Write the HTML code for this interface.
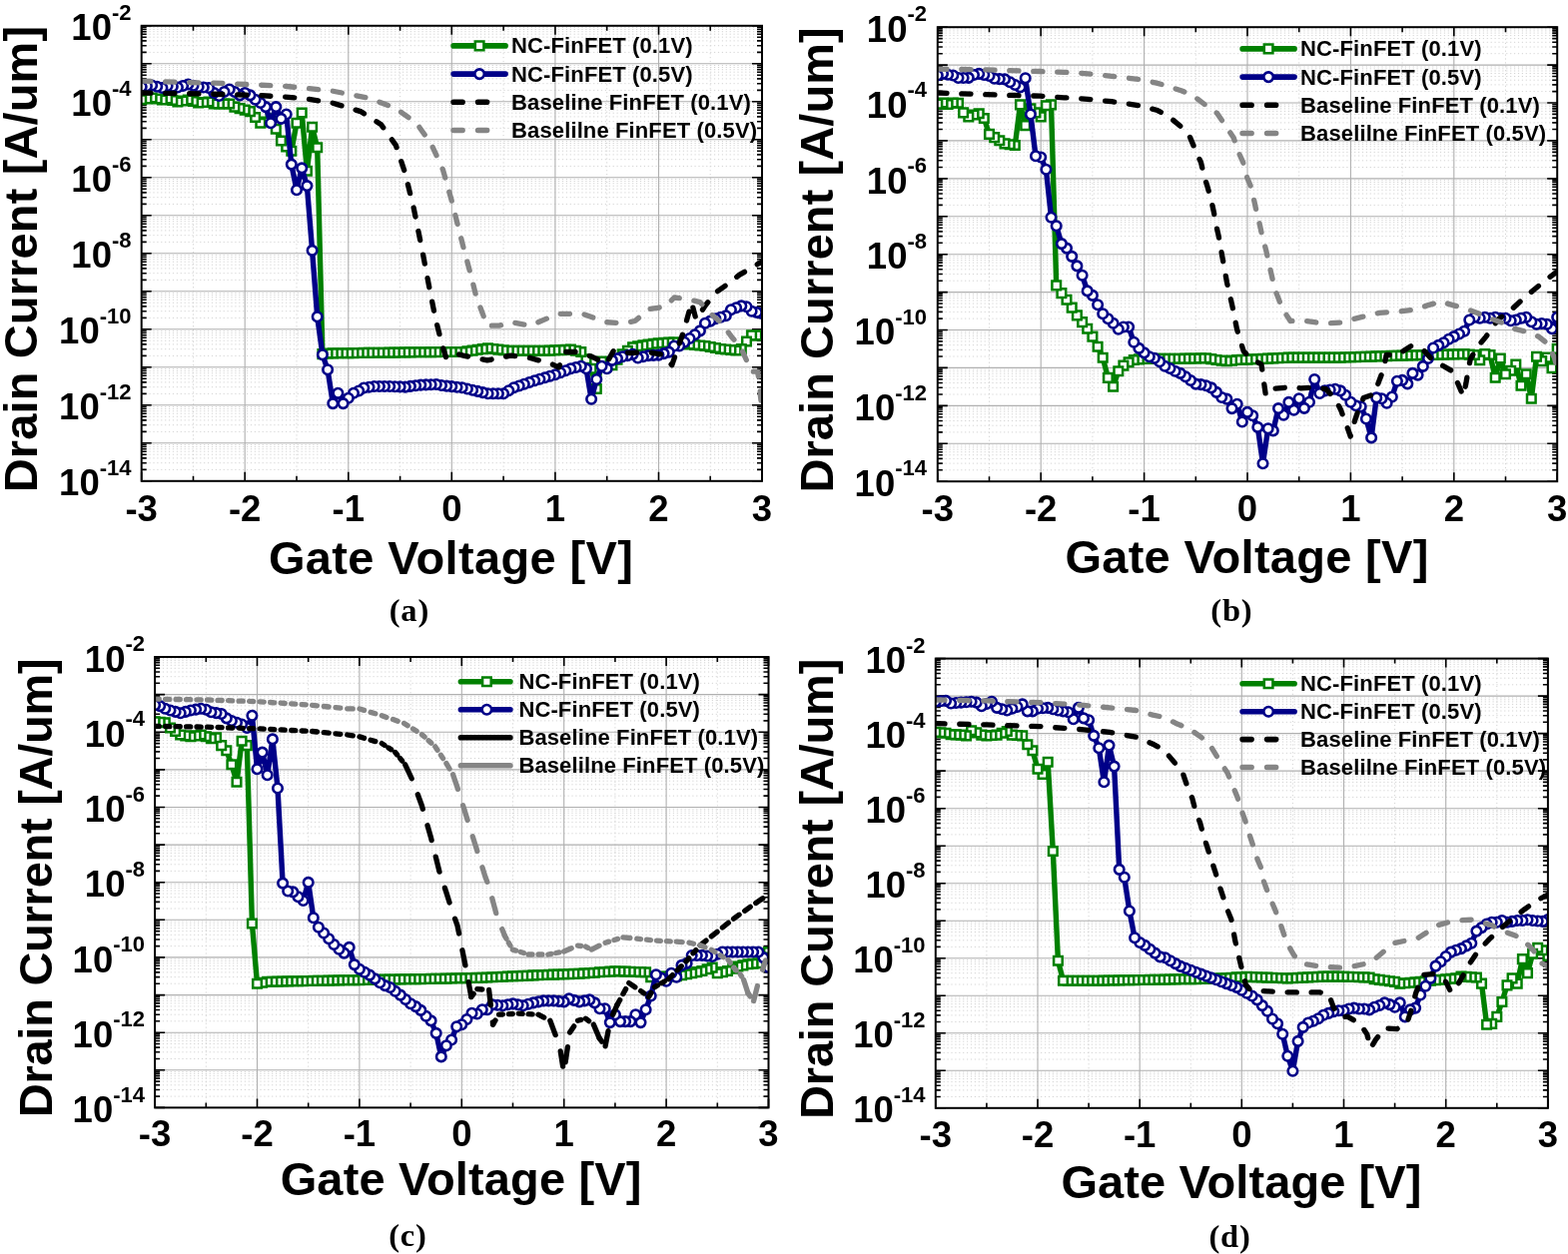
<!DOCTYPE html>
<html><head><meta charset="utf-8"><style>
html,body{margin:0;padding:0;background:#fff;}
svg{display:block;}
text{font-family:"Liberation Sans",Arial,sans-serif;font-weight:700;fill:#000;}
.tk{font-size:36.5px;}
.sup{font-size:22px;}
.al{font-size:47px;}
.lg{font-size:22px;letter-spacing:0.12px;}
.cap{font-family:"Liberation Serif","Times New Roman",serif;font-size:32.5px;letter-spacing:0.8px;}
</style></head><body>
<svg width="1570" height="1256" viewBox="0 0 1570 1256">
<defs><clipPath id="clipa"><rect x="141.7" y="25.8" width="621.3" height="456.0"/></clipPath><clipPath id="clipb"><rect x="938.8" y="27.2" width="620.4" height="455.0"/></clipPath><clipPath id="clipc"><rect x="155.1" y="658.0" width="614.4" height="451.4"/></clipPath><clipPath id="clipd"><rect x="936.8" y="659.6" width="613.1" height="450.2"/></clipPath><path id="mg" d="M-4.3 -4.3h8.6v8.6h-8.6z" fill="#fff" stroke="#008000" stroke-width="2.5"/><circle id="mb" r="4.75" fill="#fff" stroke="#000088" stroke-width="2.6"/></defs>
<path d="M193.5 25.8V481.8 M297.0 25.8V481.8 M400.6 25.8V481.8 M504.1 25.8V481.8 M607.7 25.8V481.8 M711.2 25.8V481.8 M141.7 470.4H763.0 M141.7 463.7H763.0 M141.7 458.9H763.0 M141.7 455.2H763.0 M141.7 452.2H763.0 M141.7 449.7H763.0 M141.7 447.5H763.0 M141.7 445.5H763.0 M141.7 432.4H763.0 M141.7 425.7H763.0 M141.7 420.9H763.0 M141.7 417.2H763.0 M141.7 414.2H763.0 M141.7 411.7H763.0 M141.7 409.5H763.0 M141.7 407.5H763.0 M141.7 394.4H763.0 M141.7 387.7H763.0 M141.7 382.9H763.0 M141.7 379.2H763.0 M141.7 376.2H763.0 M141.7 373.7H763.0 M141.7 371.5H763.0 M141.7 369.5H763.0 M141.7 356.4H763.0 M141.7 349.7H763.0 M141.7 344.9H763.0 M141.7 341.2H763.0 M141.7 338.2H763.0 M141.7 335.7H763.0 M141.7 333.5H763.0 M141.7 331.5H763.0 M141.7 318.4H763.0 M141.7 311.7H763.0 M141.7 306.9H763.0 M141.7 303.2H763.0 M141.7 300.2H763.0 M141.7 297.7H763.0 M141.7 295.5H763.0 M141.7 293.5H763.0 M141.7 280.4H763.0 M141.7 273.7H763.0 M141.7 268.9H763.0 M141.7 265.2H763.0 M141.7 262.2H763.0 M141.7 259.7H763.0 M141.7 257.5H763.0 M141.7 255.5H763.0 M141.7 242.4H763.0 M141.7 235.7H763.0 M141.7 230.9H763.0 M141.7 227.2H763.0 M141.7 224.2H763.0 M141.7 221.7H763.0 M141.7 219.5H763.0 M141.7 217.5H763.0 M141.7 204.4H763.0 M141.7 197.7H763.0 M141.7 192.9H763.0 M141.7 189.2H763.0 M141.7 186.2H763.0 M141.7 183.7H763.0 M141.7 181.5H763.0 M141.7 179.5H763.0 M141.7 166.4H763.0 M141.7 159.7H763.0 M141.7 154.9H763.0 M141.7 151.2H763.0 M141.7 148.2H763.0 M141.7 145.7H763.0 M141.7 143.5H763.0 M141.7 141.5H763.0 M141.7 128.4H763.0 M141.7 121.7H763.0 M141.7 116.9H763.0 M141.7 113.2H763.0 M141.7 110.2H763.0 M141.7 107.7H763.0 M141.7 105.5H763.0 M141.7 103.5H763.0 M141.7 90.4H763.0 M141.7 83.7H763.0 M141.7 78.9H763.0 M141.7 75.2H763.0 M141.7 72.2H763.0 M141.7 69.7H763.0 M141.7 67.5H763.0 M141.7 65.5H763.0 M141.7 52.4H763.0 M141.7 45.7H763.0 M141.7 40.9H763.0 M141.7 37.2H763.0 M141.7 34.2H763.0 M141.7 31.7H763.0 M141.7 29.5H763.0 M141.7 27.5H763.0" stroke="#d4d4d4" stroke-width="1" stroke-dasharray="1.2 2.7" fill="none"/>
<path d="M245.2 25.8V481.8 M348.8 25.8V481.8 M452.3 25.8V481.8 M555.9 25.8V481.8 M659.5 25.8V481.8 M141.7 443.8H763.0 M141.7 405.8H763.0 M141.7 367.8H763.0 M141.7 329.8H763.0 M141.7 291.8H763.0 M141.7 253.8H763.0 M141.7 215.8H763.0 M141.7 177.8H763.0 M141.7 139.8H763.0 M141.7 101.8H763.0 M141.7 63.8H763.0" stroke="#b0b0b0" stroke-width="1.1" fill="none"/>
<path d="M141.7 481.8v-9M141.7 25.8v9 M245.2 481.8v-9M245.2 25.8v9 M348.8 481.8v-9M348.8 25.8v9 M452.3 481.8v-9M452.3 25.8v9 M555.9 481.8v-9M555.9 25.8v9 M659.5 481.8v-9M659.5 25.8v9 M763.0 481.8v-9M763.0 25.8v9 M193.5 481.8v-5M193.5 25.8v5 M297.0 481.8v-5M297.0 25.8v5 M400.6 481.8v-5M400.6 25.8v5 M504.1 481.8v-5M504.1 25.8v5 M607.7 481.8v-5M607.7 25.8v5 M711.2 481.8v-5M711.2 25.8v5 M141.7 481.8h10M763.0 481.8h-10 M141.7 470.4h5M763.0 470.4h-5 M141.7 463.7h5M763.0 463.7h-5 M141.7 458.9h5M763.0 458.9h-5 M141.7 455.2h5M763.0 455.2h-5 M141.7 452.2h5M763.0 452.2h-5 M141.7 449.7h5M763.0 449.7h-5 M141.7 447.5h5M763.0 447.5h-5 M141.7 445.5h5M763.0 445.5h-5 M141.7 443.8h10M763.0 443.8h-10 M141.7 432.4h5M763.0 432.4h-5 M141.7 425.7h5M763.0 425.7h-5 M141.7 420.9h5M763.0 420.9h-5 M141.7 417.2h5M763.0 417.2h-5 M141.7 414.2h5M763.0 414.2h-5 M141.7 411.7h5M763.0 411.7h-5 M141.7 409.5h5M763.0 409.5h-5 M141.7 407.5h5M763.0 407.5h-5 M141.7 405.8h10M763.0 405.8h-10 M141.7 394.4h5M763.0 394.4h-5 M141.7 387.7h5M763.0 387.7h-5 M141.7 382.9h5M763.0 382.9h-5 M141.7 379.2h5M763.0 379.2h-5 M141.7 376.2h5M763.0 376.2h-5 M141.7 373.7h5M763.0 373.7h-5 M141.7 371.5h5M763.0 371.5h-5 M141.7 369.5h5M763.0 369.5h-5 M141.7 367.8h10M763.0 367.8h-10 M141.7 356.4h5M763.0 356.4h-5 M141.7 349.7h5M763.0 349.7h-5 M141.7 344.9h5M763.0 344.9h-5 M141.7 341.2h5M763.0 341.2h-5 M141.7 338.2h5M763.0 338.2h-5 M141.7 335.7h5M763.0 335.7h-5 M141.7 333.5h5M763.0 333.5h-5 M141.7 331.5h5M763.0 331.5h-5 M141.7 329.8h10M763.0 329.8h-10 M141.7 318.4h5M763.0 318.4h-5 M141.7 311.7h5M763.0 311.7h-5 M141.7 306.9h5M763.0 306.9h-5 M141.7 303.2h5M763.0 303.2h-5 M141.7 300.2h5M763.0 300.2h-5 M141.7 297.7h5M763.0 297.7h-5 M141.7 295.5h5M763.0 295.5h-5 M141.7 293.5h5M763.0 293.5h-5 M141.7 291.8h10M763.0 291.8h-10 M141.7 280.4h5M763.0 280.4h-5 M141.7 273.7h5M763.0 273.7h-5 M141.7 268.9h5M763.0 268.9h-5 M141.7 265.2h5M763.0 265.2h-5 M141.7 262.2h5M763.0 262.2h-5 M141.7 259.7h5M763.0 259.7h-5 M141.7 257.5h5M763.0 257.5h-5 M141.7 255.5h5M763.0 255.5h-5 M141.7 253.8h10M763.0 253.8h-10 M141.7 242.4h5M763.0 242.4h-5 M141.7 235.7h5M763.0 235.7h-5 M141.7 230.9h5M763.0 230.9h-5 M141.7 227.2h5M763.0 227.2h-5 M141.7 224.2h5M763.0 224.2h-5 M141.7 221.7h5M763.0 221.7h-5 M141.7 219.5h5M763.0 219.5h-5 M141.7 217.5h5M763.0 217.5h-5 M141.7 215.8h10M763.0 215.8h-10 M141.7 204.4h5M763.0 204.4h-5 M141.7 197.7h5M763.0 197.7h-5 M141.7 192.9h5M763.0 192.9h-5 M141.7 189.2h5M763.0 189.2h-5 M141.7 186.2h5M763.0 186.2h-5 M141.7 183.7h5M763.0 183.7h-5 M141.7 181.5h5M763.0 181.5h-5 M141.7 179.5h5M763.0 179.5h-5 M141.7 177.8h10M763.0 177.8h-10 M141.7 166.4h5M763.0 166.4h-5 M141.7 159.7h5M763.0 159.7h-5 M141.7 154.9h5M763.0 154.9h-5 M141.7 151.2h5M763.0 151.2h-5 M141.7 148.2h5M763.0 148.2h-5 M141.7 145.7h5M763.0 145.7h-5 M141.7 143.5h5M763.0 143.5h-5 M141.7 141.5h5M763.0 141.5h-5 M141.7 139.8h10M763.0 139.8h-10 M141.7 128.4h5M763.0 128.4h-5 M141.7 121.7h5M763.0 121.7h-5 M141.7 116.9h5M763.0 116.9h-5 M141.7 113.2h5M763.0 113.2h-5 M141.7 110.2h5M763.0 110.2h-5 M141.7 107.7h5M763.0 107.7h-5 M141.7 105.5h5M763.0 105.5h-5 M141.7 103.5h5M763.0 103.5h-5 M141.7 101.8h10M763.0 101.8h-10 M141.7 90.4h5M763.0 90.4h-5 M141.7 83.7h5M763.0 83.7h-5 M141.7 78.9h5M763.0 78.9h-5 M141.7 75.2h5M763.0 75.2h-5 M141.7 72.2h5M763.0 72.2h-5 M141.7 69.7h5M763.0 69.7h-5 M141.7 67.5h5M763.0 67.5h-5 M141.7 65.5h5M763.0 65.5h-5 M141.7 63.8h10M763.0 63.8h-10 M141.7 52.4h5M763.0 52.4h-5 M141.7 45.7h5M763.0 45.7h-5 M141.7 40.9h5M763.0 40.9h-5 M141.7 37.2h5M763.0 37.2h-5 M141.7 34.2h5M763.0 34.2h-5 M141.7 31.7h5M763.0 31.7h-5 M141.7 29.5h5M763.0 29.5h-5 M141.7 27.5h5M763.0 27.5h-5 M141.7 25.8h10M763.0 25.8h-10" stroke="#000" stroke-width="1.6" fill="none"/>
<polyline points="141.7,99.8 146.9,98.9 152.1,98.0 157.2,99.0 162.4,100.0 167.6,99.0 172.8,100.5 177.9,102.0 183.1,101.0 188.3,100.0 193.5,101.5 198.7,103.0 203.8,102.5 209.0,102.0 214.2,104.0 219.4,104.0 224.5,104.0 229.7,104.0 234.9,107.1 240.1,108.6 245.2,110.1 250.4,111.6 255.6,117.5 260.8,123.3 266.0,122.0 271.1,118.9 276.3,129.2 281.5,141.0 286.7,146.9 291.8,151.3 297.0,123.3 302.2,113.0 307.4,171.2 312.6,127.2 317.7,147.8 322.9,354.6 328.1,354.0 333.3,353.9 338.4,353.8 343.6,353.8 348.8,353.7 354.0,353.6 359.2,353.5 364.3,353.4 369.5,353.4 374.7,353.3 379.9,353.2 385.0,353.2 390.2,353.1 395.4,353.1 400.6,353.0 405.8,352.9 410.9,352.9 416.1,352.8 421.3,352.8 426.5,352.7 431.6,352.6 436.8,352.6 442.0,352.5 447.2,352.5 452.3,352.5 457.5,352.5 462.7,352.5 467.9,351.8 473.1,351.1 478.2,350.3 483.4,349.6 488.6,348.9 493.8,349.5 498.9,350.1 504.1,350.7 509.3,351.3 514.5,351.3 519.7,351.3 524.8,351.3 530.0,351.3 535.2,351.3 540.4,351.3 545.5,351.3 550.7,351.1 555.9,350.8 561.1,350.6 566.3,350.3 571.4,350.1 576.6,351.3 581.8,352.5 587.0,359.7 592.1,369.2 597.3,389.5 602.5,362.1 607.7,363.9 612.9,365.6 618.0,360.2 623.2,354.9 628.4,351.3 633.6,347.7 638.7,346.8 643.9,345.9 649.1,345.1 654.3,344.2 659.4,343.8 664.6,343.4 669.8,343.1 675.0,342.7 680.2,343.5 685.3,344.2 690.5,345.0 695.7,345.5 700.9,346.0 706.0,346.5 711.2,347.5 716.4,348.5 721.6,349.5 726.8,350.0 731.9,350.5 737.1,351.0 742.3,349.5 747.5,342.0 752.6,335.9 757.8,335.9 763.0,335.9" fill="none" stroke="#008000" stroke-width="5.4" stroke-linejoin="round" clip-path="url(#clipa)"/>
<g clip-path="url(#clipa)"><use href="#mg" x="763.0" y="335.9"/><use href="#mg" x="757.8" y="335.9"/><use href="#mg" x="752.6" y="335.9"/><use href="#mg" x="747.5" y="342.0"/><use href="#mg" x="742.3" y="349.5"/><use href="#mg" x="737.1" y="351.0"/><use href="#mg" x="731.9" y="350.5"/><use href="#mg" x="726.8" y="350.0"/><use href="#mg" x="721.6" y="349.5"/><use href="#mg" x="716.4" y="348.5"/><use href="#mg" x="711.2" y="347.5"/><use href="#mg" x="706.0" y="346.5"/><use href="#mg" x="700.9" y="346.0"/><use href="#mg" x="695.7" y="345.5"/><use href="#mg" x="690.5" y="345.0"/><use href="#mg" x="685.3" y="344.2"/><use href="#mg" x="680.2" y="343.5"/><use href="#mg" x="675.0" y="342.7"/><use href="#mg" x="669.8" y="343.1"/><use href="#mg" x="664.6" y="343.4"/><use href="#mg" x="659.4" y="343.8"/><use href="#mg" x="654.3" y="344.2"/><use href="#mg" x="649.1" y="345.1"/><use href="#mg" x="643.9" y="345.9"/><use href="#mg" x="638.7" y="346.8"/><use href="#mg" x="633.6" y="347.7"/><use href="#mg" x="628.4" y="351.3"/><use href="#mg" x="623.2" y="354.9"/><use href="#mg" x="618.0" y="360.2"/><use href="#mg" x="612.9" y="365.6"/><use href="#mg" x="607.7" y="363.9"/><use href="#mg" x="602.5" y="362.1"/><use href="#mg" x="597.3" y="389.5"/><use href="#mg" x="592.1" y="369.2"/><use href="#mg" x="587.0" y="359.7"/><use href="#mg" x="581.8" y="352.5"/><use href="#mg" x="576.6" y="351.3"/><use href="#mg" x="571.4" y="350.1"/><use href="#mg" x="566.3" y="350.3"/><use href="#mg" x="561.1" y="350.6"/><use href="#mg" x="555.9" y="350.8"/><use href="#mg" x="550.7" y="351.1"/><use href="#mg" x="545.5" y="351.3"/><use href="#mg" x="540.4" y="351.3"/><use href="#mg" x="535.2" y="351.3"/><use href="#mg" x="530.0" y="351.3"/><use href="#mg" x="524.8" y="351.3"/><use href="#mg" x="519.7" y="351.3"/><use href="#mg" x="514.5" y="351.3"/><use href="#mg" x="509.3" y="351.3"/><use href="#mg" x="504.1" y="350.7"/><use href="#mg" x="498.9" y="350.1"/><use href="#mg" x="493.8" y="349.5"/><use href="#mg" x="488.6" y="348.9"/><use href="#mg" x="483.4" y="349.6"/><use href="#mg" x="478.2" y="350.3"/><use href="#mg" x="473.1" y="351.1"/><use href="#mg" x="467.9" y="351.8"/><use href="#mg" x="462.7" y="352.5"/><use href="#mg" x="457.5" y="352.5"/><use href="#mg" x="452.3" y="352.5"/><use href="#mg" x="447.2" y="352.5"/><use href="#mg" x="442.0" y="352.5"/><use href="#mg" x="436.8" y="352.6"/><use href="#mg" x="431.6" y="352.6"/><use href="#mg" x="426.5" y="352.7"/><use href="#mg" x="421.3" y="352.8"/><use href="#mg" x="416.1" y="352.8"/><use href="#mg" x="410.9" y="352.9"/><use href="#mg" x="405.8" y="352.9"/><use href="#mg" x="400.6" y="353.0"/><use href="#mg" x="395.4" y="353.1"/><use href="#mg" x="390.2" y="353.1"/><use href="#mg" x="385.0" y="353.2"/><use href="#mg" x="379.9" y="353.2"/><use href="#mg" x="374.7" y="353.3"/><use href="#mg" x="369.5" y="353.4"/><use href="#mg" x="364.3" y="353.4"/><use href="#mg" x="359.2" y="353.5"/><use href="#mg" x="354.0" y="353.6"/><use href="#mg" x="348.8" y="353.7"/><use href="#mg" x="343.6" y="353.8"/><use href="#mg" x="338.4" y="353.8"/><use href="#mg" x="333.3" y="353.9"/><use href="#mg" x="328.1" y="354.0"/><use href="#mg" x="322.9" y="354.6"/><use href="#mg" x="317.7" y="147.8"/><use href="#mg" x="312.6" y="127.2"/><use href="#mg" x="307.4" y="171.2"/><use href="#mg" x="302.2" y="113.0"/><use href="#mg" x="297.0" y="123.3"/><use href="#mg" x="291.8" y="151.3"/><use href="#mg" x="286.7" y="146.9"/><use href="#mg" x="281.5" y="141.0"/><use href="#mg" x="276.3" y="129.2"/><use href="#mg" x="271.1" y="118.9"/><use href="#mg" x="266.0" y="122.0"/><use href="#mg" x="260.8" y="123.3"/><use href="#mg" x="255.6" y="117.5"/><use href="#mg" x="250.4" y="111.6"/><use href="#mg" x="245.2" y="110.1"/><use href="#mg" x="240.1" y="108.6"/><use href="#mg" x="234.9" y="107.1"/><use href="#mg" x="229.7" y="104.0"/><use href="#mg" x="224.5" y="104.0"/><use href="#mg" x="219.4" y="104.0"/><use href="#mg" x="214.2" y="104.0"/><use href="#mg" x="209.0" y="102.0"/><use href="#mg" x="203.8" y="102.5"/><use href="#mg" x="198.7" y="103.0"/><use href="#mg" x="193.5" y="101.5"/><use href="#mg" x="188.3" y="100.0"/><use href="#mg" x="183.1" y="101.0"/><use href="#mg" x="177.9" y="102.0"/><use href="#mg" x="172.8" y="100.5"/><use href="#mg" x="167.6" y="99.0"/><use href="#mg" x="162.4" y="100.0"/><use href="#mg" x="157.2" y="99.0"/><use href="#mg" x="152.1" y="98.0"/><use href="#mg" x="146.9" y="98.9"/><use href="#mg" x="141.7" y="99.8"/></g>
<polyline points="141.7,87.0 146.9,86.2 152.1,85.5 157.2,86.8 162.4,88.0 167.6,86.0 172.8,86.8 177.9,87.5 183.1,86.0 188.3,84.5 193.5,85.8 198.7,87.0 203.8,87.5 209.0,88.0 214.2,93.0 219.4,96.0 224.5,92.0 229.7,89.5 234.9,92.0 240.1,95.4 245.2,93.0 250.4,95.4 255.6,99.8 260.8,103.0 266.0,107.1 271.1,123.3 276.3,107.1 281.5,118.9 286.7,114.5 291.8,164.6 297.0,190.2 302.2,168.4 307.4,186.1 312.6,250.9 317.7,317.2 322.9,355.2 328.1,370.3 333.3,404.1 338.4,393.8 343.6,404.1 348.8,398.8 354.0,393.8 359.2,391.5 364.3,388.5 369.5,387.8 374.7,387.0 379.9,387.0 385.0,387.0 390.2,387.0 395.4,387.2 400.6,387.4 405.8,387.6 410.9,386.9 416.1,386.3 421.3,385.6 426.5,385.4 431.6,385.2 436.8,385.0 442.0,386.0 447.2,386.6 452.3,387.1 457.5,387.7 462.7,388.3 467.9,389.5 473.1,390.7 478.2,391.9 483.4,393.1 488.6,394.3 493.8,394.3 498.9,394.3 504.1,394.3 509.3,391.3 514.5,388.3 519.7,386.5 524.8,384.8 530.0,383.0 535.2,381.2 540.4,379.7 545.5,378.2 550.7,376.7 555.9,375.2 561.1,373.2 566.3,371.2 571.4,369.2 576.6,368.0 581.8,366.8 587.0,369.2 592.1,399.8 597.3,380.0 602.5,366.8 607.7,369.2 612.9,360.9 618.0,359.1 623.2,357.3 628.4,356.1 633.6,354.9 638.7,358.5 643.9,357.3 649.1,356.1 654.3,355.9 659.4,355.6 664.6,354.1 669.8,352.6 675.0,346.5 680.2,346.5 685.3,342.8 690.5,339.0 695.7,335.2 700.9,331.4 706.0,323.8 711.2,321.6 716.4,319.3 721.6,317.8 726.8,316.2 731.9,310.2 737.1,308.3 742.3,306.4 747.5,307.2 752.6,311.7 757.8,312.9 763.0,314.0" fill="none" stroke="#000088" stroke-width="5.4" stroke-linejoin="round" clip-path="url(#clipa)"/>
<g clip-path="url(#clipa)"><use href="#mb" x="763.0" y="314.0"/><use href="#mb" x="757.8" y="312.9"/><use href="#mb" x="752.6" y="311.7"/><use href="#mb" x="747.5" y="307.2"/><use href="#mb" x="742.3" y="306.4"/><use href="#mb" x="737.1" y="308.3"/><use href="#mb" x="731.9" y="310.2"/><use href="#mb" x="726.8" y="316.2"/><use href="#mb" x="721.6" y="317.8"/><use href="#mb" x="716.4" y="319.3"/><use href="#mb" x="711.2" y="321.6"/><use href="#mb" x="706.0" y="323.8"/><use href="#mb" x="700.9" y="331.4"/><use href="#mb" x="695.7" y="335.2"/><use href="#mb" x="690.5" y="339.0"/><use href="#mb" x="685.3" y="342.8"/><use href="#mb" x="680.2" y="346.5"/><use href="#mb" x="675.0" y="346.5"/><use href="#mb" x="669.8" y="352.6"/><use href="#mb" x="664.6" y="354.1"/><use href="#mb" x="659.4" y="355.6"/><use href="#mb" x="654.3" y="355.9"/><use href="#mb" x="649.1" y="356.1"/><use href="#mb" x="643.9" y="357.3"/><use href="#mb" x="638.7" y="358.5"/><use href="#mb" x="633.6" y="354.9"/><use href="#mb" x="628.4" y="356.1"/><use href="#mb" x="623.2" y="357.3"/><use href="#mb" x="618.0" y="359.1"/><use href="#mb" x="612.9" y="360.9"/><use href="#mb" x="607.7" y="369.2"/><use href="#mb" x="602.5" y="366.8"/><use href="#mb" x="597.3" y="380.0"/><use href="#mb" x="592.1" y="399.8"/><use href="#mb" x="587.0" y="369.2"/><use href="#mb" x="581.8" y="366.8"/><use href="#mb" x="576.6" y="368.0"/><use href="#mb" x="571.4" y="369.2"/><use href="#mb" x="566.3" y="371.2"/><use href="#mb" x="561.1" y="373.2"/><use href="#mb" x="555.9" y="375.2"/><use href="#mb" x="550.7" y="376.7"/><use href="#mb" x="545.5" y="378.2"/><use href="#mb" x="540.4" y="379.7"/><use href="#mb" x="535.2" y="381.2"/><use href="#mb" x="530.0" y="383.0"/><use href="#mb" x="524.8" y="384.8"/><use href="#mb" x="519.7" y="386.5"/><use href="#mb" x="514.5" y="388.3"/><use href="#mb" x="509.3" y="391.3"/><use href="#mb" x="504.1" y="394.3"/><use href="#mb" x="498.9" y="394.3"/><use href="#mb" x="493.8" y="394.3"/><use href="#mb" x="488.6" y="394.3"/><use href="#mb" x="483.4" y="393.1"/><use href="#mb" x="478.2" y="391.9"/><use href="#mb" x="473.1" y="390.7"/><use href="#mb" x="467.9" y="389.5"/><use href="#mb" x="462.7" y="388.3"/><use href="#mb" x="457.5" y="387.7"/><use href="#mb" x="452.3" y="387.1"/><use href="#mb" x="447.2" y="386.6"/><use href="#mb" x="442.0" y="386.0"/><use href="#mb" x="436.8" y="385.0"/><use href="#mb" x="431.6" y="385.2"/><use href="#mb" x="426.5" y="385.4"/><use href="#mb" x="421.3" y="385.6"/><use href="#mb" x="416.1" y="386.3"/><use href="#mb" x="410.9" y="386.9"/><use href="#mb" x="405.8" y="387.6"/><use href="#mb" x="400.6" y="387.4"/><use href="#mb" x="395.4" y="387.2"/><use href="#mb" x="390.2" y="387.0"/><use href="#mb" x="385.0" y="387.0"/><use href="#mb" x="379.9" y="387.0"/><use href="#mb" x="374.7" y="387.0"/><use href="#mb" x="369.5" y="387.8"/><use href="#mb" x="364.3" y="388.5"/><use href="#mb" x="359.2" y="391.5"/><use href="#mb" x="354.0" y="393.8"/><use href="#mb" x="348.8" y="398.8"/><use href="#mb" x="343.6" y="404.1"/><use href="#mb" x="338.4" y="393.8"/><use href="#mb" x="333.3" y="404.1"/><use href="#mb" x="328.1" y="370.3"/><use href="#mb" x="322.9" y="355.2"/><use href="#mb" x="317.7" y="317.2"/><use href="#mb" x="312.6" y="250.9"/><use href="#mb" x="307.4" y="186.1"/><use href="#mb" x="302.2" y="168.4"/><use href="#mb" x="297.0" y="190.2"/><use href="#mb" x="291.8" y="164.6"/><use href="#mb" x="286.7" y="114.5"/><use href="#mb" x="281.5" y="118.9"/><use href="#mb" x="276.3" y="107.1"/><use href="#mb" x="271.1" y="123.3"/><use href="#mb" x="266.0" y="107.1"/><use href="#mb" x="260.8" y="103.0"/><use href="#mb" x="255.6" y="99.8"/><use href="#mb" x="250.4" y="95.4"/><use href="#mb" x="245.2" y="93.0"/><use href="#mb" x="240.1" y="95.4"/><use href="#mb" x="234.9" y="92.0"/><use href="#mb" x="229.7" y="89.5"/><use href="#mb" x="224.5" y="92.0"/><use href="#mb" x="219.4" y="96.0"/><use href="#mb" x="214.2" y="93.0"/><use href="#mb" x="209.0" y="88.0"/><use href="#mb" x="203.8" y="87.5"/><use href="#mb" x="198.7" y="87.0"/><use href="#mb" x="193.5" y="85.8"/><use href="#mb" x="188.3" y="84.5"/><use href="#mb" x="183.1" y="86.0"/><use href="#mb" x="177.9" y="87.5"/><use href="#mb" x="172.8" y="86.8"/><use href="#mb" x="167.6" y="86.0"/><use href="#mb" x="162.4" y="88.0"/><use href="#mb" x="157.2" y="86.8"/><use href="#mb" x="152.1" y="85.5"/><use href="#mb" x="146.9" y="86.2"/><use href="#mb" x="141.7" y="87.0"/></g>
<polyline points="141.7,93.0 199.0,93.9 257.9,95.4 302.0,98.3 331.5,102.7 361.0,111.6 381.6,124.8 396.3,145.4 405.2,172.0 414.0,207.3 422.9,251.5 430.2,289.8 436.1,319.3 442.0,342.9 446.4,357.6 452.3,353.2 463.9,356.1 487.8,360.9 511.6,356.1 530.7,358.5 552.2,364.4 559.4,368.0 566.6,352.5 578.5,352.5 592.8,357.3 607.1,364.4 614.3,351.3 631.0,353.7 647.7,352.5 662.1,354.9 672.8,365.6 684.2,332.9 692.5,303.0 697.0,320.0 705.4,307.2 716.0,293.5 726.6,286.0 740.2,275.4 750.8,269.3 763.0,262.0" fill="none" stroke="#000000" stroke-width="5.3" stroke-linecap="round" stroke-linejoin="round" stroke-dasharray="9.2 14.8" clip-path="url(#clipa)"/>
<polyline points="141.7,81.2 228.4,83.6 287.3,86.5 331.5,90.9 369.8,98.3 396.3,108.6 417.0,123.3 431.7,144.0 443.5,170.0 451.9,199.7 457.9,223.6 463.9,247.4 471.0,273.7 477.0,297.6 484.2,316.7 487.8,326.2 499.7,326.2 511.6,322.7 530.7,326.2 547.5,319.1 559.4,314.3 583.3,314.3 607.1,322.7 623.9,323.9 635.8,321.5 650.1,309.5 666.0,307.2 675.1,298.0 688.7,299.6 700.9,302.6 711.4,314.0 722.0,323.0 732.6,337.4 741.7,348.0 747.8,361.6 752.3,372.2 758.4,372.2 760.6,382.8 761.4,396.4 763.0,410.0" fill="none" stroke="#858585" stroke-width="5.3" stroke-linecap="round" stroke-linejoin="round" stroke-dasharray="9.2 14.8" clip-path="url(#clipa)"/>
<path d="M454.1 45.9h52" stroke="#008000" stroke-width="5.6" stroke-linecap="round"/>
<use href="#mg" x="480.1" y="45.9"/>
<text x="512.1" y="53.4" class="lg">NC-FinFET (0.1V)</text>
<path d="M454.1 74.1h52" stroke="#000088" stroke-width="5.6" stroke-linecap="round"/>
<use href="#mb" x="480.1" y="74.1"/>
<text x="512.1" y="81.6" class="lg">NC-FinFET (0.5V)</text>
<path d="M454.1 102.3h9M478.6 102.3h9" stroke="#000000" stroke-width="5.6" stroke-linecap="round"/>
<text x="512.1" y="109.8" class="lg">Baseline FinFET (0.1V)</text>
<path d="M454.1 130.5h9M478.6 130.5h9" stroke="#858585" stroke-width="5.6" stroke-linecap="round"/>
<text x="512.1" y="138.0" class="lg">Baselilne FinFET (0.5V)</text>
<rect x="141.7" y="25.8" width="621.3" height="456.0" fill="none" stroke="#000" stroke-width="2.0"/>
<text x="141.7" y="521.8" class="tk" text-anchor="middle">-3</text>
<text x="245.2" y="521.8" class="tk" text-anchor="middle">-2</text>
<text x="348.8" y="521.8" class="tk" text-anchor="middle">-1</text>
<text x="452.3" y="521.8" class="tk" text-anchor="middle">0</text>
<text x="555.9" y="521.8" class="tk" text-anchor="middle">1</text>
<text x="659.5" y="521.8" class="tk" text-anchor="middle">2</text>
<text x="763.0" y="521.8" class="tk" text-anchor="middle">3</text>
<text x="131.5" y="496.4" class="tk" text-anchor="end">10<tspan class="sup" dy="-20.4">-14</tspan></text>
<text x="131.5" y="420.4" class="tk" text-anchor="end">10<tspan class="sup" dy="-20.4">-12</tspan></text>
<text x="131.5" y="344.4" class="tk" text-anchor="end">10<tspan class="sup" dy="-20.4">-10</tspan></text>
<text x="131.5" y="268.4" class="tk" text-anchor="end">10<tspan class="sup" dy="-20.4">-8</tspan></text>
<text x="131.5" y="192.4" class="tk" text-anchor="end">10<tspan class="sup" dy="-20.4">-6</tspan></text>
<text x="131.5" y="116.4" class="tk" text-anchor="end">10<tspan class="sup" dy="-20.4">-4</tspan></text>
<text x="131.5" y="40.4" class="tk" text-anchor="end">10<tspan class="sup" dy="-20.4">-2</tspan></text>
<text x="451.6" y="574.8" class="al" text-anchor="middle" letter-spacing="0.367">Gate Voltage [V]</text>
<text transform="translate(37.1 259.5) rotate(-90)" class="al" text-anchor="middle" letter-spacing="0.137">Drain Current [A/um]</text>
<text x="409.9" y="622.1" class="cap" text-anchor="middle">(a)</text>
<path d="M990.5 27.2V482.2 M1093.9 27.2V482.2 M1197.3 27.2V482.2 M1300.7 27.2V482.2 M1404.1 27.2V482.2 M1507.5 27.2V482.2 M938.8 470.8H1559.2 M938.8 464.1H1559.2 M938.8 459.4H1559.2 M938.8 455.7H1559.2 M938.8 452.7H1559.2 M938.8 450.2H1559.2 M938.8 448.0H1559.2 M938.8 446.0H1559.2 M938.8 432.9H1559.2 M938.8 426.2H1559.2 M938.8 421.5H1559.2 M938.8 417.8H1559.2 M938.8 414.8H1559.2 M938.8 412.2H1559.2 M938.8 410.0H1559.2 M938.8 408.1H1559.2 M938.8 395.0H1559.2 M938.8 388.3H1559.2 M938.8 383.5H1559.2 M938.8 379.9H1559.2 M938.8 376.9H1559.2 M938.8 374.3H1559.2 M938.8 372.1H1559.2 M938.8 370.2H1559.2 M938.8 357.0H1559.2 M938.8 350.4H1559.2 M938.8 345.6H1559.2 M938.8 341.9H1559.2 M938.8 338.9H1559.2 M938.8 336.4H1559.2 M938.8 334.2H1559.2 M938.8 332.3H1559.2 M938.8 319.1H1559.2 M938.8 312.4H1559.2 M938.8 307.7H1559.2 M938.8 304.0H1559.2 M938.8 301.0H1559.2 M938.8 298.5H1559.2 M938.8 296.3H1559.2 M938.8 294.4H1559.2 M938.8 281.2H1559.2 M938.8 274.5H1559.2 M938.8 269.8H1559.2 M938.8 266.1H1559.2 M938.8 263.1H1559.2 M938.8 260.6H1559.2 M938.8 258.4H1559.2 M938.8 256.4H1559.2 M938.8 243.3H1559.2 M938.8 236.6H1559.2 M938.8 231.9H1559.2 M938.8 228.2H1559.2 M938.8 225.2H1559.2 M938.8 222.7H1559.2 M938.8 220.5H1559.2 M938.8 218.5H1559.2 M938.8 205.4H1559.2 M938.8 198.7H1559.2 M938.8 194.0H1559.2 M938.8 190.3H1559.2 M938.8 187.3H1559.2 M938.8 184.7H1559.2 M938.8 182.5H1559.2 M938.8 180.6H1559.2 M938.8 167.5H1559.2 M938.8 160.8H1559.2 M938.8 156.0H1559.2 M938.8 152.4H1559.2 M938.8 149.4H1559.2 M938.8 146.8H1559.2 M938.8 144.6H1559.2 M938.8 142.7H1559.2 M938.8 129.5H1559.2 M938.8 122.9H1559.2 M938.8 118.1H1559.2 M938.8 114.4H1559.2 M938.8 111.4H1559.2 M938.8 108.9H1559.2 M938.8 106.7H1559.2 M938.8 104.8H1559.2 M938.8 91.6H1559.2 M938.8 84.9H1559.2 M938.8 80.2H1559.2 M938.8 76.5H1559.2 M938.8 73.5H1559.2 M938.8 71.0H1559.2 M938.8 68.8H1559.2 M938.8 66.9H1559.2 M938.8 53.7H1559.2 M938.8 47.0H1559.2 M938.8 42.3H1559.2 M938.8 38.6H1559.2 M938.8 35.6H1559.2 M938.8 33.1H1559.2 M938.8 30.9H1559.2 M938.8 28.9H1559.2" stroke="#d4d4d4" stroke-width="1" stroke-dasharray="1.2 2.7" fill="none"/>
<path d="M1042.2 27.2V482.2 M1145.6 27.2V482.2 M1249.0 27.2V482.2 M1352.4 27.2V482.2 M1455.8 27.2V482.2 M938.8 444.3H1559.2 M938.8 406.4H1559.2 M938.8 368.4H1559.2 M938.8 330.5H1559.2 M938.8 292.6H1559.2 M938.8 254.7H1559.2 M938.8 216.8H1559.2 M938.8 178.9H1559.2 M938.8 140.9H1559.2 M938.8 103.0H1559.2 M938.8 65.1H1559.2" stroke="#b0b0b0" stroke-width="1.1" fill="none"/>
<path d="M938.8 482.2v-9M938.8 27.2v9 M1042.2 482.2v-9M1042.2 27.2v9 M1145.6 482.2v-9M1145.6 27.2v9 M1249.0 482.2v-9M1249.0 27.2v9 M1352.4 482.2v-9M1352.4 27.2v9 M1455.8 482.2v-9M1455.8 27.2v9 M1559.2 482.2v-9M1559.2 27.2v9 M990.5 482.2v-5M990.5 27.2v5 M1093.9 482.2v-5M1093.9 27.2v5 M1197.3 482.2v-5M1197.3 27.2v5 M1300.7 482.2v-5M1300.7 27.2v5 M1404.1 482.2v-5M1404.1 27.2v5 M1507.5 482.2v-5M1507.5 27.2v5 M938.8 482.2h10M1559.2 482.2h-10 M938.8 470.8h5M1559.2 470.8h-5 M938.8 464.1h5M1559.2 464.1h-5 M938.8 459.4h5M1559.2 459.4h-5 M938.8 455.7h5M1559.2 455.7h-5 M938.8 452.7h5M1559.2 452.7h-5 M938.8 450.2h5M1559.2 450.2h-5 M938.8 448.0h5M1559.2 448.0h-5 M938.8 446.0h5M1559.2 446.0h-5 M938.8 444.3h10M1559.2 444.3h-10 M938.8 432.9h5M1559.2 432.9h-5 M938.8 426.2h5M1559.2 426.2h-5 M938.8 421.5h5M1559.2 421.5h-5 M938.8 417.8h5M1559.2 417.8h-5 M938.8 414.8h5M1559.2 414.8h-5 M938.8 412.2h5M1559.2 412.2h-5 M938.8 410.0h5M1559.2 410.0h-5 M938.8 408.1h5M1559.2 408.1h-5 M938.8 406.4h10M1559.2 406.4h-10 M938.8 395.0h5M1559.2 395.0h-5 M938.8 388.3h5M1559.2 388.3h-5 M938.8 383.5h5M1559.2 383.5h-5 M938.8 379.9h5M1559.2 379.9h-5 M938.8 376.9h5M1559.2 376.9h-5 M938.8 374.3h5M1559.2 374.3h-5 M938.8 372.1h5M1559.2 372.1h-5 M938.8 370.2h5M1559.2 370.2h-5 M938.8 368.4h10M1559.2 368.4h-10 M938.8 357.0h5M1559.2 357.0h-5 M938.8 350.4h5M1559.2 350.4h-5 M938.8 345.6h5M1559.2 345.6h-5 M938.8 341.9h5M1559.2 341.9h-5 M938.8 338.9h5M1559.2 338.9h-5 M938.8 336.4h5M1559.2 336.4h-5 M938.8 334.2h5M1559.2 334.2h-5 M938.8 332.3h5M1559.2 332.3h-5 M938.8 330.5h10M1559.2 330.5h-10 M938.8 319.1h5M1559.2 319.1h-5 M938.8 312.4h5M1559.2 312.4h-5 M938.8 307.7h5M1559.2 307.7h-5 M938.8 304.0h5M1559.2 304.0h-5 M938.8 301.0h5M1559.2 301.0h-5 M938.8 298.5h5M1559.2 298.5h-5 M938.8 296.3h5M1559.2 296.3h-5 M938.8 294.4h5M1559.2 294.4h-5 M938.8 292.6h10M1559.2 292.6h-10 M938.8 281.2h5M1559.2 281.2h-5 M938.8 274.5h5M1559.2 274.5h-5 M938.8 269.8h5M1559.2 269.8h-5 M938.8 266.1h5M1559.2 266.1h-5 M938.8 263.1h5M1559.2 263.1h-5 M938.8 260.6h5M1559.2 260.6h-5 M938.8 258.4h5M1559.2 258.4h-5 M938.8 256.4h5M1559.2 256.4h-5 M938.8 254.7h10M1559.2 254.7h-10 M938.8 243.3h5M1559.2 243.3h-5 M938.8 236.6h5M1559.2 236.6h-5 M938.8 231.9h5M1559.2 231.9h-5 M938.8 228.2h5M1559.2 228.2h-5 M938.8 225.2h5M1559.2 225.2h-5 M938.8 222.7h5M1559.2 222.7h-5 M938.8 220.5h5M1559.2 220.5h-5 M938.8 218.5h5M1559.2 218.5h-5 M938.8 216.8h10M1559.2 216.8h-10 M938.8 205.4h5M1559.2 205.4h-5 M938.8 198.7h5M1559.2 198.7h-5 M938.8 194.0h5M1559.2 194.0h-5 M938.8 190.3h5M1559.2 190.3h-5 M938.8 187.3h5M1559.2 187.3h-5 M938.8 184.7h5M1559.2 184.7h-5 M938.8 182.5h5M1559.2 182.5h-5 M938.8 180.6h5M1559.2 180.6h-5 M938.8 178.9h10M1559.2 178.9h-10 M938.8 167.5h5M1559.2 167.5h-5 M938.8 160.8h5M1559.2 160.8h-5 M938.8 156.0h5M1559.2 156.0h-5 M938.8 152.4h5M1559.2 152.4h-5 M938.8 149.4h5M1559.2 149.4h-5 M938.8 146.8h5M1559.2 146.8h-5 M938.8 144.6h5M1559.2 144.6h-5 M938.8 142.7h5M1559.2 142.7h-5 M938.8 140.9h10M1559.2 140.9h-10 M938.8 129.5h5M1559.2 129.5h-5 M938.8 122.9h5M1559.2 122.9h-5 M938.8 118.1h5M1559.2 118.1h-5 M938.8 114.4h5M1559.2 114.4h-5 M938.8 111.4h5M1559.2 111.4h-5 M938.8 108.9h5M1559.2 108.9h-5 M938.8 106.7h5M1559.2 106.7h-5 M938.8 104.8h5M1559.2 104.8h-5 M938.8 103.0h10M1559.2 103.0h-10 M938.8 91.6h5M1559.2 91.6h-5 M938.8 84.9h5M1559.2 84.9h-5 M938.8 80.2h5M1559.2 80.2h-5 M938.8 76.5h5M1559.2 76.5h-5 M938.8 73.5h5M1559.2 73.5h-5 M938.8 71.0h5M1559.2 71.0h-5 M938.8 68.8h5M1559.2 68.8h-5 M938.8 66.9h5M1559.2 66.9h-5 M938.8 65.1h10M1559.2 65.1h-10 M938.8 53.7h5M1559.2 53.7h-5 M938.8 47.0h5M1559.2 47.0h-5 M938.8 42.3h5M1559.2 42.3h-5 M938.8 38.6h5M1559.2 38.6h-5 M938.8 35.6h5M1559.2 35.6h-5 M938.8 33.1h5M1559.2 33.1h-5 M938.8 30.9h5M1559.2 30.9h-5 M938.8 28.9h5M1559.2 28.9h-5 M938.8 27.2h10M1559.2 27.2h-10" stroke="#000" stroke-width="1.6" fill="none"/>
<polyline points="938.8,104.1 944.0,103.0 949.1,104.5 954.3,103.0 959.5,103.3 964.6,112.9 969.8,116.9 975.0,115.0 980.2,113.7 985.3,118.5 990.5,134.4 995.7,137.6 1000.8,140.7 1006.0,143.9 1011.2,144.7 1016.3,145.5 1021.5,104.9 1026.7,125.6 1031.9,108.9 1037.0,112.9 1042.2,116.9 1047.4,105.7 1052.5,104.9 1057.7,285.9 1062.9,293.6 1068.0,300.3 1073.2,308.1 1078.4,315.9 1083.6,322.6 1088.7,329.3 1093.9,337.1 1099.1,347.2 1104.2,358.3 1109.4,378.4 1114.6,387.3 1119.8,371.7 1124.9,366.1 1130.1,362.8 1135.3,360.5 1140.4,359.9 1145.6,359.4 1150.8,359.4 1155.9,359.4 1161.1,359.4 1166.3,359.4 1171.5,359.4 1176.6,359.3 1181.8,359.2 1187.0,359.1 1192.1,359.1 1197.3,359.0 1202.5,358.9 1207.6,358.8 1212.8,359.6 1218.0,360.5 1223.2,361.1 1228.3,361.6 1233.5,361.1 1238.7,360.5 1243.8,360.3 1249.0,360.1 1254.2,359.8 1259.3,359.6 1264.5,359.4 1269.7,359.1 1274.8,358.9 1280.0,358.6 1285.2,358.4 1290.4,358.1 1295.5,358.1 1300.7,358.1 1305.9,358.1 1311.0,358.1 1316.2,358.1 1321.4,358.1 1326.5,358.1 1331.7,358.1 1336.9,358.1 1342.1,358.1 1347.2,357.9 1352.4,357.8 1357.6,357.6 1362.7,357.4 1367.9,357.2 1373.1,357.1 1378.2,356.9 1383.4,356.7 1388.6,356.6 1393.8,356.4 1398.9,356.3 1404.1,356.1 1409.3,356.0 1414.4,355.9 1419.6,355.8 1424.8,355.6 1430.0,355.5 1435.1,355.4 1440.3,355.2 1445.5,355.1 1450.6,355.0 1455.8,354.9 1461.0,354.7 1466.1,354.6 1471.3,355.1 1476.5,355.5 1481.7,360.8 1486.8,354.6 1492.0,355.5 1497.2,378.3 1502.3,359.0 1507.5,374.8 1512.7,371.3 1517.8,365.1 1523.0,386.2 1528.2,374.8 1533.3,399.3 1538.5,357.2 1543.7,361.6 1548.9,358.1 1554.0,368.6 1559.2,349.4" fill="none" stroke="#008000" stroke-width="5.4" stroke-linejoin="round" clip-path="url(#clipb)"/>
<g clip-path="url(#clipb)"><use href="#mg" x="1559.2" y="349.4"/><use href="#mg" x="1554.0" y="368.6"/><use href="#mg" x="1548.9" y="358.1"/><use href="#mg" x="1543.7" y="361.6"/><use href="#mg" x="1538.5" y="357.2"/><use href="#mg" x="1533.3" y="399.3"/><use href="#mg" x="1528.2" y="374.8"/><use href="#mg" x="1523.0" y="386.2"/><use href="#mg" x="1517.8" y="365.1"/><use href="#mg" x="1512.7" y="371.3"/><use href="#mg" x="1507.5" y="374.8"/><use href="#mg" x="1502.3" y="359.0"/><use href="#mg" x="1497.2" y="378.3"/><use href="#mg" x="1492.0" y="355.5"/><use href="#mg" x="1486.8" y="354.6"/><use href="#mg" x="1481.7" y="360.8"/><use href="#mg" x="1476.5" y="355.5"/><use href="#mg" x="1471.3" y="355.1"/><use href="#mg" x="1466.1" y="354.6"/><use href="#mg" x="1461.0" y="354.7"/><use href="#mg" x="1455.8" y="354.9"/><use href="#mg" x="1450.6" y="355.0"/><use href="#mg" x="1445.5" y="355.1"/><use href="#mg" x="1440.3" y="355.2"/><use href="#mg" x="1435.1" y="355.4"/><use href="#mg" x="1430.0" y="355.5"/><use href="#mg" x="1424.8" y="355.6"/><use href="#mg" x="1419.6" y="355.8"/><use href="#mg" x="1414.4" y="355.9"/><use href="#mg" x="1409.3" y="356.0"/><use href="#mg" x="1404.1" y="356.1"/><use href="#mg" x="1398.9" y="356.3"/><use href="#mg" x="1393.8" y="356.4"/><use href="#mg" x="1388.6" y="356.6"/><use href="#mg" x="1383.4" y="356.7"/><use href="#mg" x="1378.2" y="356.9"/><use href="#mg" x="1373.1" y="357.1"/><use href="#mg" x="1367.9" y="357.2"/><use href="#mg" x="1362.7" y="357.4"/><use href="#mg" x="1357.6" y="357.6"/><use href="#mg" x="1352.4" y="357.8"/><use href="#mg" x="1347.2" y="357.9"/><use href="#mg" x="1342.1" y="358.1"/><use href="#mg" x="1336.9" y="358.1"/><use href="#mg" x="1331.7" y="358.1"/><use href="#mg" x="1326.5" y="358.1"/><use href="#mg" x="1321.4" y="358.1"/><use href="#mg" x="1316.2" y="358.1"/><use href="#mg" x="1311.0" y="358.1"/><use href="#mg" x="1305.9" y="358.1"/><use href="#mg" x="1300.7" y="358.1"/><use href="#mg" x="1295.5" y="358.1"/><use href="#mg" x="1290.4" y="358.1"/><use href="#mg" x="1285.2" y="358.4"/><use href="#mg" x="1280.0" y="358.6"/><use href="#mg" x="1274.8" y="358.9"/><use href="#mg" x="1269.7" y="359.1"/><use href="#mg" x="1264.5" y="359.4"/><use href="#mg" x="1259.3" y="359.6"/><use href="#mg" x="1254.2" y="359.8"/><use href="#mg" x="1249.0" y="360.1"/><use href="#mg" x="1243.8" y="360.3"/><use href="#mg" x="1238.7" y="360.5"/><use href="#mg" x="1233.5" y="361.1"/><use href="#mg" x="1228.3" y="361.6"/><use href="#mg" x="1223.2" y="361.1"/><use href="#mg" x="1218.0" y="360.5"/><use href="#mg" x="1212.8" y="359.6"/><use href="#mg" x="1207.6" y="358.8"/><use href="#mg" x="1202.5" y="358.9"/><use href="#mg" x="1197.3" y="359.0"/><use href="#mg" x="1192.1" y="359.1"/><use href="#mg" x="1187.0" y="359.1"/><use href="#mg" x="1181.8" y="359.2"/><use href="#mg" x="1176.6" y="359.3"/><use href="#mg" x="1171.5" y="359.4"/><use href="#mg" x="1166.3" y="359.4"/><use href="#mg" x="1161.1" y="359.4"/><use href="#mg" x="1155.9" y="359.4"/><use href="#mg" x="1150.8" y="359.4"/><use href="#mg" x="1145.6" y="359.4"/><use href="#mg" x="1140.4" y="359.9"/><use href="#mg" x="1135.3" y="360.5"/><use href="#mg" x="1130.1" y="362.8"/><use href="#mg" x="1124.9" y="366.1"/><use href="#mg" x="1119.8" y="371.7"/><use href="#mg" x="1114.6" y="387.3"/><use href="#mg" x="1109.4" y="378.4"/><use href="#mg" x="1104.2" y="358.3"/><use href="#mg" x="1099.1" y="347.2"/><use href="#mg" x="1093.9" y="337.1"/><use href="#mg" x="1088.7" y="329.3"/><use href="#mg" x="1083.6" y="322.6"/><use href="#mg" x="1078.4" y="315.9"/><use href="#mg" x="1073.2" y="308.1"/><use href="#mg" x="1068.0" y="300.3"/><use href="#mg" x="1062.9" y="293.6"/><use href="#mg" x="1057.7" y="285.9"/><use href="#mg" x="1052.5" y="104.9"/><use href="#mg" x="1047.4" y="105.7"/><use href="#mg" x="1042.2" y="116.9"/><use href="#mg" x="1037.0" y="112.9"/><use href="#mg" x="1031.9" y="108.9"/><use href="#mg" x="1026.7" y="125.6"/><use href="#mg" x="1021.5" y="104.9"/><use href="#mg" x="1016.3" y="145.5"/><use href="#mg" x="1011.2" y="144.7"/><use href="#mg" x="1006.0" y="143.9"/><use href="#mg" x="1000.8" y="140.7"/><use href="#mg" x="995.7" y="137.6"/><use href="#mg" x="990.5" y="134.4"/><use href="#mg" x="985.3" y="118.5"/><use href="#mg" x="980.2" y="113.7"/><use href="#mg" x="975.0" y="115.0"/><use href="#mg" x="969.8" y="116.9"/><use href="#mg" x="964.6" y="112.9"/><use href="#mg" x="959.5" y="103.3"/><use href="#mg" x="954.3" y="103.0"/><use href="#mg" x="949.1" y="104.5"/><use href="#mg" x="944.0" y="103.0"/><use href="#mg" x="938.8" y="104.1"/></g>
<polyline points="938.8,75.5 944.0,73.9 949.1,74.7 954.3,75.5 959.5,78.0 964.6,78.0 969.8,77.9 975.0,75.0 980.2,73.9 985.3,75.0 990.5,76.0 995.7,78.7 1000.8,79.1 1006.0,79.4 1011.2,82.2 1016.3,85.0 1021.5,87.4 1026.7,78.3 1031.9,114.5 1037.0,156.3 1042.2,157.5 1047.4,169.7 1052.5,217.8 1057.7,226.3 1062.9,244.1 1068.0,248.6 1073.2,256.9 1078.4,266.4 1083.6,275.8 1088.7,291.4 1093.9,295.9 1099.1,305.2 1104.2,314.2 1109.4,319.3 1114.6,323.7 1119.8,329.8 1124.9,327.5 1130.1,327.5 1135.3,342.7 1140.4,348.9 1145.6,353.4 1150.8,357.2 1155.9,358.8 1161.1,362.3 1166.3,366.8 1171.5,369.0 1176.6,371.7 1181.8,373.9 1187.0,377.3 1192.1,381.0 1197.3,384.6 1202.5,385.1 1207.6,386.2 1212.8,388.4 1218.0,392.9 1223.2,398.0 1228.3,399.6 1233.5,409.1 1238.7,404.7 1243.8,422.5 1249.0,412.9 1254.2,416.3 1259.3,427.9 1264.5,464.2 1269.7,429.2 1274.8,431.4 1280.0,409.1 1285.2,415.8 1290.4,402.9 1295.5,410.7 1300.7,399.3 1305.9,408.9 1311.0,402.8 1316.2,380.0 1321.4,394.0 1326.5,391.4 1331.7,390.5 1336.9,389.7 1342.1,391.4 1347.2,395.8 1352.4,402.8 1357.6,406.3 1362.7,407.2 1367.9,419.5 1373.1,438.4 1378.2,398.4 1383.4,399.3 1388.6,403.7 1393.8,397.5 1398.9,381.8 1404.1,380.9 1409.3,384.4 1414.4,373.9 1419.6,375.6 1424.8,366.9 1430.0,359.0 1435.1,348.5 1440.3,345.9 1445.5,343.2 1450.6,339.7 1455.8,337.1 1461.0,334.5 1466.1,331.8 1471.3,320.5 1476.5,317.8 1481.7,318.7 1486.8,317.8 1492.0,318.7 1497.2,317.8 1502.3,318.7 1507.5,318.7 1512.7,321.3 1517.8,320.5 1523.0,318.7 1528.2,317.8 1533.3,322.2 1538.5,324.8 1543.7,324.0 1548.9,324.8 1554.0,329.2 1559.2,317.8" fill="none" stroke="#000088" stroke-width="5.4" stroke-linejoin="round" clip-path="url(#clipb)"/>
<g clip-path="url(#clipb)"><use href="#mb" x="1559.2" y="317.8"/><use href="#mb" x="1554.0" y="329.2"/><use href="#mb" x="1548.9" y="324.8"/><use href="#mb" x="1543.7" y="324.0"/><use href="#mb" x="1538.5" y="324.8"/><use href="#mb" x="1533.3" y="322.2"/><use href="#mb" x="1528.2" y="317.8"/><use href="#mb" x="1523.0" y="318.7"/><use href="#mb" x="1517.8" y="320.5"/><use href="#mb" x="1512.7" y="321.3"/><use href="#mb" x="1507.5" y="318.7"/><use href="#mb" x="1502.3" y="318.7"/><use href="#mb" x="1497.2" y="317.8"/><use href="#mb" x="1492.0" y="318.7"/><use href="#mb" x="1486.8" y="317.8"/><use href="#mb" x="1481.7" y="318.7"/><use href="#mb" x="1476.5" y="317.8"/><use href="#mb" x="1471.3" y="320.5"/><use href="#mb" x="1466.1" y="331.8"/><use href="#mb" x="1461.0" y="334.5"/><use href="#mb" x="1455.8" y="337.1"/><use href="#mb" x="1450.6" y="339.7"/><use href="#mb" x="1445.5" y="343.2"/><use href="#mb" x="1440.3" y="345.9"/><use href="#mb" x="1435.1" y="348.5"/><use href="#mb" x="1430.0" y="359.0"/><use href="#mb" x="1424.8" y="366.9"/><use href="#mb" x="1419.6" y="375.6"/><use href="#mb" x="1414.4" y="373.9"/><use href="#mb" x="1409.3" y="384.4"/><use href="#mb" x="1404.1" y="380.9"/><use href="#mb" x="1398.9" y="381.8"/><use href="#mb" x="1393.8" y="397.5"/><use href="#mb" x="1388.6" y="403.7"/><use href="#mb" x="1383.4" y="399.3"/><use href="#mb" x="1378.2" y="398.4"/><use href="#mb" x="1373.1" y="438.4"/><use href="#mb" x="1367.9" y="419.5"/><use href="#mb" x="1362.7" y="407.2"/><use href="#mb" x="1357.6" y="406.3"/><use href="#mb" x="1352.4" y="402.8"/><use href="#mb" x="1347.2" y="395.8"/><use href="#mb" x="1342.1" y="391.4"/><use href="#mb" x="1336.9" y="389.7"/><use href="#mb" x="1331.7" y="390.5"/><use href="#mb" x="1326.5" y="391.4"/><use href="#mb" x="1321.4" y="394.0"/><use href="#mb" x="1316.2" y="380.0"/><use href="#mb" x="1311.0" y="402.8"/><use href="#mb" x="1305.9" y="408.9"/><use href="#mb" x="1300.7" y="399.3"/><use href="#mb" x="1295.5" y="410.7"/><use href="#mb" x="1290.4" y="402.9"/><use href="#mb" x="1285.2" y="415.8"/><use href="#mb" x="1280.0" y="409.1"/><use href="#mb" x="1274.8" y="431.4"/><use href="#mb" x="1269.7" y="429.2"/><use href="#mb" x="1264.5" y="464.2"/><use href="#mb" x="1259.3" y="427.9"/><use href="#mb" x="1254.2" y="416.3"/><use href="#mb" x="1249.0" y="412.9"/><use href="#mb" x="1243.8" y="422.5"/><use href="#mb" x="1238.7" y="404.7"/><use href="#mb" x="1233.5" y="409.1"/><use href="#mb" x="1228.3" y="399.6"/><use href="#mb" x="1223.2" y="398.0"/><use href="#mb" x="1218.0" y="392.9"/><use href="#mb" x="1212.8" y="388.4"/><use href="#mb" x="1207.6" y="386.2"/><use href="#mb" x="1202.5" y="385.1"/><use href="#mb" x="1197.3" y="384.6"/><use href="#mb" x="1192.1" y="381.0"/><use href="#mb" x="1187.0" y="377.3"/><use href="#mb" x="1181.8" y="373.9"/><use href="#mb" x="1176.6" y="371.7"/><use href="#mb" x="1171.5" y="369.0"/><use href="#mb" x="1166.3" y="366.8"/><use href="#mb" x="1161.1" y="362.3"/><use href="#mb" x="1155.9" y="358.8"/><use href="#mb" x="1150.8" y="357.2"/><use href="#mb" x="1145.6" y="353.4"/><use href="#mb" x="1140.4" y="348.9"/><use href="#mb" x="1135.3" y="342.7"/><use href="#mb" x="1130.1" y="327.5"/><use href="#mb" x="1124.9" y="327.5"/><use href="#mb" x="1119.8" y="329.8"/><use href="#mb" x="1114.6" y="323.7"/><use href="#mb" x="1109.4" y="319.3"/><use href="#mb" x="1104.2" y="314.2"/><use href="#mb" x="1099.1" y="305.2"/><use href="#mb" x="1093.9" y="295.9"/><use href="#mb" x="1088.7" y="291.4"/><use href="#mb" x="1083.6" y="275.8"/><use href="#mb" x="1078.4" y="266.4"/><use href="#mb" x="1073.2" y="256.9"/><use href="#mb" x="1068.0" y="248.6"/><use href="#mb" x="1062.9" y="244.1"/><use href="#mb" x="1057.7" y="226.3"/><use href="#mb" x="1052.5" y="217.8"/><use href="#mb" x="1047.4" y="169.7"/><use href="#mb" x="1042.2" y="157.5"/><use href="#mb" x="1037.0" y="156.3"/><use href="#mb" x="1031.9" y="114.5"/><use href="#mb" x="1026.7" y="78.3"/><use href="#mb" x="1021.5" y="87.4"/><use href="#mb" x="1016.3" y="85.0"/><use href="#mb" x="1011.2" y="82.2"/><use href="#mb" x="1006.0" y="79.4"/><use href="#mb" x="1000.8" y="79.1"/><use href="#mb" x="995.7" y="78.7"/><use href="#mb" x="990.5" y="76.0"/><use href="#mb" x="985.3" y="75.0"/><use href="#mb" x="980.2" y="73.9"/><use href="#mb" x="975.0" y="75.0"/><use href="#mb" x="969.8" y="77.9"/><use href="#mb" x="964.6" y="78.0"/><use href="#mb" x="959.5" y="78.0"/><use href="#mb" x="954.3" y="75.5"/><use href="#mb" x="949.1" y="74.7"/><use href="#mb" x="944.0" y="73.9"/><use href="#mb" x="938.8" y="75.5"/></g>
<polyline points="938.8,93.0 985.8,94.6 1041.5,96.2 1065.3,97.8 1089.2,99.3 1113.1,101.7 1140.2,105.7 1158.0,110.2 1169.1,115.7 1182.6,126.9 1191.4,137.2 1197.8,152.4 1202.5,162.7 1205.7,176.2 1208.9,186.6 1212.9,200.9 1215.3,212.1 1217.7,225.6 1220.1,236.0 1222.8,251.3 1228.4,282.5 1234.0,307.0 1238.4,329.3 1245.1,351.6 1251.8,358.3 1263.0,365.0 1267.4,396.2 1274.1,389.5 1290.0,387.9 1302.3,388.8 1316.3,387.9 1327.7,389.7 1337.3,400.2 1342.6,410.7 1347.8,424.7 1352.2,437.0 1356.6,421.2 1360.1,410.7 1365.3,398.4 1375.9,394.9 1381.1,380.9 1385.5,369.5 1388.1,355.5 1398.6,355.5 1412.7,346.7 1424.0,349.4 1435.4,361.6 1444.2,366.0 1454.7,372.1 1459.1,382.7 1465.2,396.7 1467.8,384.4 1470.5,368.6 1472.2,359.9 1479.2,347.6 1488.0,337.1 1500.3,319.6 1510.8,312.6 1524.8,299.4 1535.3,290.7 1549.3,279.3 1559.2,272.0" fill="none" stroke="#000000" stroke-width="5.3" stroke-linecap="round" stroke-linejoin="round" stroke-dasharray="9.2 14.8" clip-path="url(#clipb)"/>
<polyline points="938.8,69.1 985.8,69.9 1041.5,71.5 1065.3,72.3 1089.2,73.9 1113.1,76.3 1140.2,79.4 1158.0,83.1 1169.1,86.3 1183.4,91.0 1194.6,95.8 1207.3,105.4 1218.5,113.3 1228.8,128.5 1235.2,138.0 1240.8,154.0 1244.7,162.7 1248.7,177.8 1252.7,187.4 1255.9,201.7 1258.3,212.9 1261.5,225.6 1263.9,236.8 1267.8,251.1 1269.7,260.2 1276.3,289.2 1284.1,309.3 1292.0,321.5 1305.8,321.3 1325.0,324.0 1342.6,323.1 1354.8,319.6 1368.9,316.1 1381.1,313.4 1403.9,311.7 1417.9,309.9 1430.2,305.6 1442.4,302.0 1454.7,305.6 1467.0,309.1 1479.2,313.4 1491.5,318.7 1503.8,323.1 1516.0,329.2 1526.6,331.8 1540.6,337.1 1549.3,344.1 1556.3,358.1 1559.2,368.6" fill="none" stroke="#858585" stroke-width="5.3" stroke-linecap="round" stroke-linejoin="round" stroke-dasharray="9.2 14.8" clip-path="url(#clipb)"/>
<path d="M1244.1 48.9h52" stroke="#008000" stroke-width="5.6" stroke-linecap="round"/>
<use href="#mg" x="1270.1" y="48.9"/>
<text x="1302.1" y="56.4" class="lg">NC-FinFET (0.1V)</text>
<path d="M1244.1 77.1h52" stroke="#000088" stroke-width="5.6" stroke-linecap="round"/>
<use href="#mb" x="1270.1" y="77.1"/>
<text x="1302.1" y="84.6" class="lg">NC-FinFET (0.5V)</text>
<path d="M1244.1 105.3h9M1268.6 105.3h9" stroke="#000000" stroke-width="5.6" stroke-linecap="round"/>
<text x="1302.1" y="112.8" class="lg">Baseline FinFET (0.1V)</text>
<path d="M1244.1 133.5h9M1268.6 133.5h9" stroke="#858585" stroke-width="5.6" stroke-linecap="round"/>
<text x="1302.1" y="141.0" class="lg">Baselilne FinFET (0.5V)</text>
<rect x="938.8" y="27.2" width="620.4" height="455.0" fill="none" stroke="#000" stroke-width="2.0"/>
<text x="938.8" y="521.8" class="tk" text-anchor="middle">-3</text>
<text x="1042.2" y="521.8" class="tk" text-anchor="middle">-2</text>
<text x="1145.6" y="521.8" class="tk" text-anchor="middle">-1</text>
<text x="1249.0" y="521.8" class="tk" text-anchor="middle">0</text>
<text x="1352.4" y="521.8" class="tk" text-anchor="middle">1</text>
<text x="1455.8" y="521.8" class="tk" text-anchor="middle">2</text>
<text x="1559.2" y="521.8" class="tk" text-anchor="middle">3</text>
<text x="928.0" y="496.8" class="tk" text-anchor="end">10<tspan class="sup" dy="-20.4">-14</tspan></text>
<text x="928.0" y="421.0" class="tk" text-anchor="end">10<tspan class="sup" dy="-20.4">-12</tspan></text>
<text x="928.0" y="345.1" class="tk" text-anchor="end">10<tspan class="sup" dy="-20.4">-10</tspan></text>
<text x="928.0" y="269.3" class="tk" text-anchor="end">10<tspan class="sup" dy="-20.4">-8</tspan></text>
<text x="928.0" y="193.5" class="tk" text-anchor="end">10<tspan class="sup" dy="-20.4">-6</tspan></text>
<text x="928.0" y="117.6" class="tk" text-anchor="end">10<tspan class="sup" dy="-20.4">-4</tspan></text>
<text x="928.0" y="41.8" class="tk" text-anchor="end">10<tspan class="sup" dy="-20.4">-2</tspan></text>
<text x="1248.5" y="574.0" class="al" text-anchor="middle" letter-spacing="0.293">Gate Voltage [V]</text>
<text transform="translate(834.3 260.4) rotate(-90)" class="al" text-anchor="middle" letter-spacing="0.079">Drain Current [A/um]</text>
<text x="1233.4" y="622.0" class="cap" text-anchor="middle">(b)</text>
<path d="M206.3 658.0V1109.4 M308.7 658.0V1109.4 M411.1 658.0V1109.4 M513.5 658.0V1109.4 M615.9 658.0V1109.4 M718.3 658.0V1109.4 M155.1 1098.1H769.5 M155.1 1091.5H769.5 M155.1 1086.8H769.5 M155.1 1083.1H769.5 M155.1 1080.1H769.5 M155.1 1077.6H769.5 M155.1 1075.4H769.5 M155.1 1073.5H769.5 M155.1 1060.5H769.5 M155.1 1053.8H769.5 M155.1 1049.1H769.5 M155.1 1045.5H769.5 M155.1 1042.5H769.5 M155.1 1040.0H769.5 M155.1 1037.8H769.5 M155.1 1035.9H769.5 M155.1 1022.8H769.5 M155.1 1016.2H769.5 M155.1 1011.5H769.5 M155.1 1007.9H769.5 M155.1 1004.9H769.5 M155.1 1002.4H769.5 M155.1 1000.2H769.5 M155.1 998.3H769.5 M155.1 985.2H769.5 M155.1 978.6H769.5 M155.1 973.9H769.5 M155.1 970.3H769.5 M155.1 967.3H769.5 M155.1 964.8H769.5 M155.1 962.6H769.5 M155.1 960.7H769.5 M155.1 947.6H769.5 M155.1 941.0H769.5 M155.1 936.3H769.5 M155.1 932.6H769.5 M155.1 929.7H769.5 M155.1 927.1H769.5 M155.1 925.0H769.5 M155.1 923.0H769.5 M155.1 910.0H769.5 M155.1 903.4H769.5 M155.1 898.7H769.5 M155.1 895.0H769.5 M155.1 892.0H769.5 M155.1 889.5H769.5 M155.1 887.3H769.5 M155.1 885.4H769.5 M155.1 872.4H769.5 M155.1 865.8H769.5 M155.1 861.1H769.5 M155.1 857.4H769.5 M155.1 854.4H769.5 M155.1 851.9H769.5 M155.1 849.7H769.5 M155.1 847.8H769.5 M155.1 834.8H769.5 M155.1 828.1H769.5 M155.1 823.4H769.5 M155.1 819.8H769.5 M155.1 816.8H769.5 M155.1 814.3H769.5 M155.1 812.1H769.5 M155.1 810.2H769.5 M155.1 797.1H769.5 M155.1 790.5H769.5 M155.1 785.8H769.5 M155.1 782.2H769.5 M155.1 779.2H769.5 M155.1 776.7H769.5 M155.1 774.5H769.5 M155.1 772.6H769.5 M155.1 759.5H769.5 M155.1 752.9H769.5 M155.1 748.2H769.5 M155.1 744.6H769.5 M155.1 741.6H769.5 M155.1 739.1H769.5 M155.1 736.9H769.5 M155.1 735.0H769.5 M155.1 721.9H769.5 M155.1 715.3H769.5 M155.1 710.6H769.5 M155.1 706.9H769.5 M155.1 704.0H769.5 M155.1 701.4H769.5 M155.1 699.3H769.5 M155.1 697.3H769.5 M155.1 684.3H769.5 M155.1 677.7H769.5 M155.1 673.0H769.5 M155.1 669.3H769.5 M155.1 666.3H769.5 M155.1 663.8H769.5 M155.1 661.6H769.5 M155.1 659.7H769.5" stroke="#d4d4d4" stroke-width="1" stroke-dasharray="1.2 2.7" fill="none"/>
<path d="M257.5 658.0V1109.4 M359.9 658.0V1109.4 M462.3 658.0V1109.4 M564.7 658.0V1109.4 M667.1 658.0V1109.4 M155.1 1071.8H769.5 M155.1 1034.2H769.5 M155.1 996.6H769.5 M155.1 958.9H769.5 M155.1 921.3H769.5 M155.1 883.7H769.5 M155.1 846.1H769.5 M155.1 808.5H769.5 M155.1 770.9H769.5 M155.1 733.2H769.5 M155.1 695.6H769.5" stroke="#b0b0b0" stroke-width="1.1" fill="none"/>
<path d="M155.1 1109.4v-9M155.1 658.0v9 M257.5 1109.4v-9M257.5 658.0v9 M359.9 1109.4v-9M359.9 658.0v9 M462.3 1109.4v-9M462.3 658.0v9 M564.7 1109.4v-9M564.7 658.0v9 M667.1 1109.4v-9M667.1 658.0v9 M769.5 1109.4v-9M769.5 658.0v9 M206.3 1109.4v-5M206.3 658.0v5 M308.7 1109.4v-5M308.7 658.0v5 M411.1 1109.4v-5M411.1 658.0v5 M513.5 1109.4v-5M513.5 658.0v5 M615.9 1109.4v-5M615.9 658.0v5 M718.3 1109.4v-5M718.3 658.0v5 M155.1 1109.4h10M769.5 1109.4h-10 M155.1 1098.1h5M769.5 1098.1h-5 M155.1 1091.5h5M769.5 1091.5h-5 M155.1 1086.8h5M769.5 1086.8h-5 M155.1 1083.1h5M769.5 1083.1h-5 M155.1 1080.1h5M769.5 1080.1h-5 M155.1 1077.6h5M769.5 1077.6h-5 M155.1 1075.4h5M769.5 1075.4h-5 M155.1 1073.5h5M769.5 1073.5h-5 M155.1 1071.8h10M769.5 1071.8h-10 M155.1 1060.5h5M769.5 1060.5h-5 M155.1 1053.8h5M769.5 1053.8h-5 M155.1 1049.1h5M769.5 1049.1h-5 M155.1 1045.5h5M769.5 1045.5h-5 M155.1 1042.5h5M769.5 1042.5h-5 M155.1 1040.0h5M769.5 1040.0h-5 M155.1 1037.8h5M769.5 1037.8h-5 M155.1 1035.9h5M769.5 1035.9h-5 M155.1 1034.2h10M769.5 1034.2h-10 M155.1 1022.8h5M769.5 1022.8h-5 M155.1 1016.2h5M769.5 1016.2h-5 M155.1 1011.5h5M769.5 1011.5h-5 M155.1 1007.9h5M769.5 1007.9h-5 M155.1 1004.9h5M769.5 1004.9h-5 M155.1 1002.4h5M769.5 1002.4h-5 M155.1 1000.2h5M769.5 1000.2h-5 M155.1 998.3h5M769.5 998.3h-5 M155.1 996.6h10M769.5 996.6h-10 M155.1 985.2h5M769.5 985.2h-5 M155.1 978.6h5M769.5 978.6h-5 M155.1 973.9h5M769.5 973.9h-5 M155.1 970.3h5M769.5 970.3h-5 M155.1 967.3h5M769.5 967.3h-5 M155.1 964.8h5M769.5 964.8h-5 M155.1 962.6h5M769.5 962.6h-5 M155.1 960.7h5M769.5 960.7h-5 M155.1 958.9h10M769.5 958.9h-10 M155.1 947.6h5M769.5 947.6h-5 M155.1 941.0h5M769.5 941.0h-5 M155.1 936.3h5M769.5 936.3h-5 M155.1 932.6h5M769.5 932.6h-5 M155.1 929.7h5M769.5 929.7h-5 M155.1 927.1h5M769.5 927.1h-5 M155.1 925.0h5M769.5 925.0h-5 M155.1 923.0h5M769.5 923.0h-5 M155.1 921.3h10M769.5 921.3h-10 M155.1 910.0h5M769.5 910.0h-5 M155.1 903.4h5M769.5 903.4h-5 M155.1 898.7h5M769.5 898.7h-5 M155.1 895.0h5M769.5 895.0h-5 M155.1 892.0h5M769.5 892.0h-5 M155.1 889.5h5M769.5 889.5h-5 M155.1 887.3h5M769.5 887.3h-5 M155.1 885.4h5M769.5 885.4h-5 M155.1 883.7h10M769.5 883.7h-10 M155.1 872.4h5M769.5 872.4h-5 M155.1 865.8h5M769.5 865.8h-5 M155.1 861.1h5M769.5 861.1h-5 M155.1 857.4h5M769.5 857.4h-5 M155.1 854.4h5M769.5 854.4h-5 M155.1 851.9h5M769.5 851.9h-5 M155.1 849.7h5M769.5 849.7h-5 M155.1 847.8h5M769.5 847.8h-5 M155.1 846.1h10M769.5 846.1h-10 M155.1 834.8h5M769.5 834.8h-5 M155.1 828.1h5M769.5 828.1h-5 M155.1 823.4h5M769.5 823.4h-5 M155.1 819.8h5M769.5 819.8h-5 M155.1 816.8h5M769.5 816.8h-5 M155.1 814.3h5M769.5 814.3h-5 M155.1 812.1h5M769.5 812.1h-5 M155.1 810.2h5M769.5 810.2h-5 M155.1 808.5h10M769.5 808.5h-10 M155.1 797.1h5M769.5 797.1h-5 M155.1 790.5h5M769.5 790.5h-5 M155.1 785.8h5M769.5 785.8h-5 M155.1 782.2h5M769.5 782.2h-5 M155.1 779.2h5M769.5 779.2h-5 M155.1 776.7h5M769.5 776.7h-5 M155.1 774.5h5M769.5 774.5h-5 M155.1 772.6h5M769.5 772.6h-5 M155.1 770.9h10M769.5 770.9h-10 M155.1 759.5h5M769.5 759.5h-5 M155.1 752.9h5M769.5 752.9h-5 M155.1 748.2h5M769.5 748.2h-5 M155.1 744.6h5M769.5 744.6h-5 M155.1 741.6h5M769.5 741.6h-5 M155.1 739.1h5M769.5 739.1h-5 M155.1 736.9h5M769.5 736.9h-5 M155.1 735.0h5M769.5 735.0h-5 M155.1 733.2h10M769.5 733.2h-10 M155.1 721.9h5M769.5 721.9h-5 M155.1 715.3h5M769.5 715.3h-5 M155.1 710.6h5M769.5 710.6h-5 M155.1 706.9h5M769.5 706.9h-5 M155.1 704.0h5M769.5 704.0h-5 M155.1 701.4h5M769.5 701.4h-5 M155.1 699.3h5M769.5 699.3h-5 M155.1 697.3h5M769.5 697.3h-5 M155.1 695.6h10M769.5 695.6h-10 M155.1 684.3h5M769.5 684.3h-5 M155.1 677.7h5M769.5 677.7h-5 M155.1 673.0h5M769.5 673.0h-5 M155.1 669.3h5M769.5 669.3h-5 M155.1 666.3h5M769.5 666.3h-5 M155.1 663.8h5M769.5 663.8h-5 M155.1 661.6h5M769.5 661.6h-5 M155.1 659.7h5M769.5 659.7h-5 M155.1 658.0h10M769.5 658.0h-10" stroke="#000" stroke-width="1.6" fill="none"/>
<polyline points="155.1,722.9 160.2,723.3 165.3,723.8 170.5,729.0 175.6,732.5 180.7,736.0 185.8,736.9 190.9,737.8 196.1,736.9 201.2,736.0 206.3,737.8 211.4,739.6 216.5,738.7 221.7,746.6 226.8,751.8 231.9,765.8 237.0,783.3 242.1,742.2 247.3,746.6 252.4,925.0 257.5,985.2 262.6,984.2 267.7,983.3 272.9,983.2 278.0,983.1 283.1,983.0 288.2,982.9 293.3,982.8 298.5,982.7 303.6,982.6 308.7,982.5 313.8,982.4 318.9,982.3 324.1,982.2 329.2,982.1 334.3,982.0 339.4,981.9 344.5,981.8 349.7,981.8 354.8,981.7 359.9,981.6 365.0,981.5 370.1,981.4 375.3,981.3 380.4,981.2 385.5,981.1 390.6,981.1 395.7,981.0 400.9,980.9 406.0,980.8 411.1,980.7 416.2,980.6 421.3,980.6 426.5,980.5 431.6,980.4 436.7,980.3 441.8,980.2 446.9,980.1 452.1,980.0 457.2,979.8 462.3,979.7 467.4,979.6 472.5,979.5 477.7,979.4 482.8,979.2 487.9,979.0 493.0,978.7 498.1,978.5 503.3,978.3 508.4,978.0 513.5,977.8 518.6,977.6 523.7,977.4 528.9,977.2 534.0,976.9 539.1,976.7 544.2,976.5 549.3,976.3 554.5,976.1 559.6,976.0 564.7,975.8 569.8,975.6 574.9,975.4 580.1,975.2 585.2,974.9 590.3,974.5 595.4,974.2 600.5,973.8 605.7,973.5 610.8,973.1 615.9,972.8 621.0,973.0 626.1,973.1 631.3,973.3 636.4,973.5 641.5,973.6 646.6,973.8 651.7,978.7 656.9,978.5 662.0,978.3 667.1,978.1 672.2,977.9 677.3,977.7 682.5,976.8 687.6,975.8 692.7,974.7 697.8,973.6 702.9,972.5 708.1,970.8 713.2,969.1 718.3,974.7 723.4,973.6 728.5,972.5 733.7,970.2 738.8,968.0 743.9,966.9 749.0,965.8 754.1,965.2 759.3,964.7 764.4,959.1 769.5,953.5" fill="none" stroke="#008000" stroke-width="5.4" stroke-linejoin="round" clip-path="url(#clipc)"/>
<g clip-path="url(#clipc)"><use href="#mg" x="769.5" y="953.5"/><use href="#mg" x="764.4" y="959.1"/><use href="#mg" x="759.3" y="964.7"/><use href="#mg" x="754.1" y="965.2"/><use href="#mg" x="749.0" y="965.8"/><use href="#mg" x="743.9" y="966.9"/><use href="#mg" x="738.8" y="968.0"/><use href="#mg" x="733.7" y="970.2"/><use href="#mg" x="728.5" y="972.5"/><use href="#mg" x="723.4" y="973.6"/><use href="#mg" x="718.3" y="974.7"/><use href="#mg" x="713.2" y="969.1"/><use href="#mg" x="708.1" y="970.8"/><use href="#mg" x="702.9" y="972.5"/><use href="#mg" x="697.8" y="973.6"/><use href="#mg" x="692.7" y="974.7"/><use href="#mg" x="687.6" y="975.8"/><use href="#mg" x="682.5" y="976.8"/><use href="#mg" x="677.3" y="977.7"/><use href="#mg" x="672.2" y="977.9"/><use href="#mg" x="667.1" y="978.1"/><use href="#mg" x="662.0" y="978.3"/><use href="#mg" x="656.9" y="978.5"/><use href="#mg" x="651.7" y="978.7"/><use href="#mg" x="646.6" y="973.8"/><use href="#mg" x="641.5" y="973.6"/><use href="#mg" x="636.4" y="973.5"/><use href="#mg" x="631.3" y="973.3"/><use href="#mg" x="626.1" y="973.1"/><use href="#mg" x="621.0" y="973.0"/><use href="#mg" x="615.9" y="972.8"/><use href="#mg" x="610.8" y="973.1"/><use href="#mg" x="605.7" y="973.5"/><use href="#mg" x="600.5" y="973.8"/><use href="#mg" x="595.4" y="974.2"/><use href="#mg" x="590.3" y="974.5"/><use href="#mg" x="585.2" y="974.9"/><use href="#mg" x="580.1" y="975.2"/><use href="#mg" x="574.9" y="975.4"/><use href="#mg" x="569.8" y="975.6"/><use href="#mg" x="564.7" y="975.8"/><use href="#mg" x="559.6" y="976.0"/><use href="#mg" x="554.5" y="976.1"/><use href="#mg" x="549.3" y="976.3"/><use href="#mg" x="544.2" y="976.5"/><use href="#mg" x="539.1" y="976.7"/><use href="#mg" x="534.0" y="976.9"/><use href="#mg" x="528.9" y="977.2"/><use href="#mg" x="523.7" y="977.4"/><use href="#mg" x="518.6" y="977.6"/><use href="#mg" x="513.5" y="977.8"/><use href="#mg" x="508.4" y="978.0"/><use href="#mg" x="503.3" y="978.3"/><use href="#mg" x="498.1" y="978.5"/><use href="#mg" x="493.0" y="978.7"/><use href="#mg" x="487.9" y="979.0"/><use href="#mg" x="482.8" y="979.2"/><use href="#mg" x="477.7" y="979.4"/><use href="#mg" x="472.5" y="979.5"/><use href="#mg" x="467.4" y="979.6"/><use href="#mg" x="462.3" y="979.7"/><use href="#mg" x="457.2" y="979.8"/><use href="#mg" x="452.1" y="980.0"/><use href="#mg" x="446.9" y="980.1"/><use href="#mg" x="441.8" y="980.2"/><use href="#mg" x="436.7" y="980.3"/><use href="#mg" x="431.6" y="980.4"/><use href="#mg" x="426.5" y="980.5"/><use href="#mg" x="421.3" y="980.6"/><use href="#mg" x="416.2" y="980.6"/><use href="#mg" x="411.1" y="980.7"/><use href="#mg" x="406.0" y="980.8"/><use href="#mg" x="400.9" y="980.9"/><use href="#mg" x="395.7" y="981.0"/><use href="#mg" x="390.6" y="981.1"/><use href="#mg" x="385.5" y="981.1"/><use href="#mg" x="380.4" y="981.2"/><use href="#mg" x="375.3" y="981.3"/><use href="#mg" x="370.1" y="981.4"/><use href="#mg" x="365.0" y="981.5"/><use href="#mg" x="359.9" y="981.6"/><use href="#mg" x="354.8" y="981.7"/><use href="#mg" x="349.7" y="981.8"/><use href="#mg" x="344.5" y="981.8"/><use href="#mg" x="339.4" y="981.9"/><use href="#mg" x="334.3" y="982.0"/><use href="#mg" x="329.2" y="982.1"/><use href="#mg" x="324.1" y="982.2"/><use href="#mg" x="318.9" y="982.3"/><use href="#mg" x="313.8" y="982.4"/><use href="#mg" x="308.7" y="982.5"/><use href="#mg" x="303.6" y="982.6"/><use href="#mg" x="298.5" y="982.7"/><use href="#mg" x="293.3" y="982.8"/><use href="#mg" x="288.2" y="982.9"/><use href="#mg" x="283.1" y="983.0"/><use href="#mg" x="278.0" y="983.1"/><use href="#mg" x="272.9" y="983.2"/><use href="#mg" x="267.7" y="983.3"/><use href="#mg" x="262.6" y="984.2"/><use href="#mg" x="257.5" y="985.2"/><use href="#mg" x="252.4" y="925.0"/><use href="#mg" x="247.3" y="746.6"/><use href="#mg" x="242.1" y="742.2"/><use href="#mg" x="237.0" y="783.3"/><use href="#mg" x="231.9" y="765.8"/><use href="#mg" x="226.8" y="751.8"/><use href="#mg" x="221.7" y="746.6"/><use href="#mg" x="216.5" y="738.7"/><use href="#mg" x="211.4" y="739.6"/><use href="#mg" x="206.3" y="737.8"/><use href="#mg" x="201.2" y="736.0"/><use href="#mg" x="196.1" y="736.9"/><use href="#mg" x="190.9" y="737.8"/><use href="#mg" x="185.8" y="736.9"/><use href="#mg" x="180.7" y="736.0"/><use href="#mg" x="175.6" y="732.5"/><use href="#mg" x="170.5" y="729.0"/><use href="#mg" x="165.3" y="723.8"/><use href="#mg" x="160.2" y="723.3"/><use href="#mg" x="155.1" y="722.9"/></g>
<polyline points="155.1,706.3 160.2,707.1 165.3,709.8 170.5,711.5 175.6,712.9 180.7,714.2 185.8,712.9 190.9,711.5 196.1,710.6 201.2,709.8 206.3,710.7 211.4,713.3 216.5,714.1 221.7,715.0 226.8,719.4 231.9,722.0 237.0,723.8 242.1,725.5 247.3,729.0 252.4,716.8 257.5,770.2 262.6,753.6 267.7,776.3 272.9,740.4 278.0,789.5 283.1,884.6 288.2,892.5 293.3,893.4 298.5,898.2 303.6,902.0 308.7,883.9 313.8,919.2 318.9,928.8 324.1,934.5 329.2,940.3 334.3,946.0 339.4,950.8 344.5,954.6 349.7,948.9 354.8,966.1 359.9,970.8 365.0,973.7 370.1,976.6 375.3,980.4 380.4,984.2 385.5,987.1 390.6,989.0 395.7,992.8 400.9,996.6 406.0,1001.0 411.1,1005.2 416.2,1008.1 421.3,1011.9 426.5,1017.7 431.6,1022.4 436.7,1034.9 441.8,1058.4 446.9,1047.3 452.1,1041.5 457.2,1028.2 462.3,1026.3 467.4,1021.0 472.5,1014.8 477.7,1015.5 482.8,1011.3 487.9,1011.3 493.0,1006.4 498.1,1006.8 503.3,1007.3 508.4,1006.3 513.5,1005.4 518.6,1006.3 523.7,1007.3 528.9,1005.8 534.0,1004.4 539.1,1003.4 544.2,1002.4 549.3,1002.4 554.5,1002.4 559.6,1002.9 564.7,1003.4 569.8,1000.4 574.9,1001.9 580.1,1003.4 585.2,1002.4 590.3,1001.4 595.4,1004.4 600.5,1010.3 605.7,1010.3 610.8,1024.1 615.9,1016.2 621.0,1023.1 626.1,1023.1 631.3,1023.1 636.4,1016.2 641.5,1024.1 646.6,1011.3 651.7,997.5 656.9,976.3 662.0,979.5 667.1,982.7 672.2,974.8 677.3,978.7 682.5,966.9 687.6,964.9 692.7,957.0 697.8,957.0 702.9,956.9 708.1,957.5 713.2,958.0 718.3,955.8 723.4,953.5 728.5,953.5 733.7,953.5 738.8,953.5 743.9,953.5 749.0,953.5 754.1,953.5 759.3,953.5 764.4,959.1 769.5,969.0" fill="none" stroke="#000088" stroke-width="5.4" stroke-linejoin="round" clip-path="url(#clipc)"/>
<g clip-path="url(#clipc)"><use href="#mb" x="769.5" y="969.0"/><use href="#mb" x="764.4" y="959.1"/><use href="#mb" x="759.3" y="953.5"/><use href="#mb" x="754.1" y="953.5"/><use href="#mb" x="749.0" y="953.5"/><use href="#mb" x="743.9" y="953.5"/><use href="#mb" x="738.8" y="953.5"/><use href="#mb" x="733.7" y="953.5"/><use href="#mb" x="728.5" y="953.5"/><use href="#mb" x="723.4" y="953.5"/><use href="#mb" x="718.3" y="955.8"/><use href="#mb" x="713.2" y="958.0"/><use href="#mb" x="708.1" y="957.5"/><use href="#mb" x="702.9" y="956.9"/><use href="#mb" x="697.8" y="957.0"/><use href="#mb" x="692.7" y="957.0"/><use href="#mb" x="687.6" y="964.9"/><use href="#mb" x="682.5" y="966.9"/><use href="#mb" x="677.3" y="978.7"/><use href="#mb" x="672.2" y="974.8"/><use href="#mb" x="667.1" y="982.7"/><use href="#mb" x="662.0" y="979.5"/><use href="#mb" x="656.9" y="976.3"/><use href="#mb" x="651.7" y="997.5"/><use href="#mb" x="646.6" y="1011.3"/><use href="#mb" x="641.5" y="1024.1"/><use href="#mb" x="636.4" y="1016.2"/><use href="#mb" x="631.3" y="1023.1"/><use href="#mb" x="626.1" y="1023.1"/><use href="#mb" x="621.0" y="1023.1"/><use href="#mb" x="615.9" y="1016.2"/><use href="#mb" x="610.8" y="1024.1"/><use href="#mb" x="605.7" y="1010.3"/><use href="#mb" x="600.5" y="1010.3"/><use href="#mb" x="595.4" y="1004.4"/><use href="#mb" x="590.3" y="1001.4"/><use href="#mb" x="585.2" y="1002.4"/><use href="#mb" x="580.1" y="1003.4"/><use href="#mb" x="574.9" y="1001.9"/><use href="#mb" x="569.8" y="1000.4"/><use href="#mb" x="564.7" y="1003.4"/><use href="#mb" x="559.6" y="1002.9"/><use href="#mb" x="554.5" y="1002.4"/><use href="#mb" x="549.3" y="1002.4"/><use href="#mb" x="544.2" y="1002.4"/><use href="#mb" x="539.1" y="1003.4"/><use href="#mb" x="534.0" y="1004.4"/><use href="#mb" x="528.9" y="1005.8"/><use href="#mb" x="523.7" y="1007.3"/><use href="#mb" x="518.6" y="1006.3"/><use href="#mb" x="513.5" y="1005.4"/><use href="#mb" x="508.4" y="1006.3"/><use href="#mb" x="503.3" y="1007.3"/><use href="#mb" x="498.1" y="1006.8"/><use href="#mb" x="493.0" y="1006.4"/><use href="#mb" x="487.9" y="1011.3"/><use href="#mb" x="482.8" y="1011.3"/><use href="#mb" x="477.7" y="1015.5"/><use href="#mb" x="472.5" y="1014.8"/><use href="#mb" x="467.4" y="1021.0"/><use href="#mb" x="462.3" y="1026.3"/><use href="#mb" x="457.2" y="1028.2"/><use href="#mb" x="452.1" y="1041.5"/><use href="#mb" x="446.9" y="1047.3"/><use href="#mb" x="441.8" y="1058.4"/><use href="#mb" x="436.7" y="1034.9"/><use href="#mb" x="431.6" y="1022.4"/><use href="#mb" x="426.5" y="1017.7"/><use href="#mb" x="421.3" y="1011.9"/><use href="#mb" x="416.2" y="1008.1"/><use href="#mb" x="411.1" y="1005.2"/><use href="#mb" x="406.0" y="1001.0"/><use href="#mb" x="400.9" y="996.6"/><use href="#mb" x="395.7" y="992.8"/><use href="#mb" x="390.6" y="989.0"/><use href="#mb" x="385.5" y="987.1"/><use href="#mb" x="380.4" y="984.2"/><use href="#mb" x="375.3" y="980.4"/><use href="#mb" x="370.1" y="976.6"/><use href="#mb" x="365.0" y="973.7"/><use href="#mb" x="359.9" y="970.8"/><use href="#mb" x="354.8" y="966.1"/><use href="#mb" x="349.7" y="948.9"/><use href="#mb" x="344.5" y="954.6"/><use href="#mb" x="339.4" y="950.8"/><use href="#mb" x="334.3" y="946.0"/><use href="#mb" x="329.2" y="940.3"/><use href="#mb" x="324.1" y="934.5"/><use href="#mb" x="318.9" y="928.8"/><use href="#mb" x="313.8" y="919.2"/><use href="#mb" x="308.7" y="883.9"/><use href="#mb" x="303.6" y="902.0"/><use href="#mb" x="298.5" y="898.2"/><use href="#mb" x="293.3" y="893.4"/><use href="#mb" x="288.2" y="892.5"/><use href="#mb" x="283.1" y="884.6"/><use href="#mb" x="278.0" y="789.5"/><use href="#mb" x="272.9" y="740.4"/><use href="#mb" x="267.7" y="776.3"/><use href="#mb" x="262.6" y="753.6"/><use href="#mb" x="257.5" y="770.2"/><use href="#mb" x="252.4" y="716.8"/><use href="#mb" x="247.3" y="729.0"/><use href="#mb" x="242.1" y="725.5"/><use href="#mb" x="237.0" y="723.8"/><use href="#mb" x="231.9" y="722.0"/><use href="#mb" x="226.8" y="719.4"/><use href="#mb" x="221.7" y="715.0"/><use href="#mb" x="216.5" y="714.1"/><use href="#mb" x="211.4" y="713.3"/><use href="#mb" x="206.3" y="710.7"/><use href="#mb" x="201.2" y="709.8"/><use href="#mb" x="196.1" y="710.6"/><use href="#mb" x="190.9" y="711.5"/><use href="#mb" x="185.8" y="712.9"/><use href="#mb" x="180.7" y="714.2"/><use href="#mb" x="175.6" y="712.9"/><use href="#mb" x="170.5" y="711.5"/><use href="#mb" x="165.3" y="709.8"/><use href="#mb" x="160.2" y="707.1"/><use href="#mb" x="155.1" y="706.3"/></g>
<path d="M155.1 727.3L159.3 727.4M165.6 727.5L169.8 727.6M176.1 727.7L180.3 727.7M186.5 727.8L190.7 727.9M197.0 728.0L201.2 728.1M207.5 728.2L211.7 728.3M218.0 728.5L222.2 728.7M228.5 728.9L232.7 729.0M239.1 729.2L243.3 729.4M249.6 729.6L253.8 729.7M260.1 729.9L264.3 730.1M270.6 730.4L274.8 730.6M281.1 730.9L285.3 731.1M291.6 731.5L295.8 731.7M302.1 732.0L306.3 732.2M312.6 732.5L317.5 733.0M324.3 733.7L329.2 734.2M336.0 734.8L340.9 735.3M347.7 736.0L353.3 736.9M360.0 737.9L364.6 739.3M371.1 741.2L375.8 742.6M382.3 744.6L385.0 746.4M389.0 749.0L391.7 750.8M395.7 753.5L397.7 756.0M400.7 759.6L402.7 762.1M471.8 998.5L474.2 995.3M477.8 990.6L482.8 991.0M493.6 1026.1L496.0 1022.0M499.5 1016.2L503.4 1016.0M509.4 1015.7L513.3 1015.5M519.2 1015.2L523.2 1015.4M529.1 1015.7L533.1 1015.9M539.0 1016.2L544.7 1019.1M570.6 1034.0L574.7 1027.9M578.5 1022.2L581.7 1021.4M586.4 1020.2L589.6 1022.6M600.2 1039.9L602.6 1043.1M618.0 1006.4L620.7 1001.5M623.9 995.5L626.6 990.6M629.8 984.6L635.9 988.7M641.6 992.5L644.8 994.9M649.5 998.5L652.0 994.4M655.5 988.6L658.3 987.0M662.4 984.7L665.2 983.1M669.3 980.7L673.4 976.6M678.1 971.8L682.2 967.7M687.0 962.9L689.8 959.7M694.0 954.8L696.9 951.6M701.1 946.8L707.0 942.1M712.3 937.9L718.1 933.3M723.4 929.0L729.3 924.3M734.6 920.1L740.1 916.2M745.7 912.3L751.2 908.4M756.8 904.5L763.8 899.8" fill="none" stroke="#000000" stroke-width="5.3" stroke-linecap="round" clip-path="url(#clipc)"/>
<path d="M405.7 765.8L413.5 782.5L422.4 807.0L431.3 838.2L440.2 873.9L446.9 893.9L452.5 911.8L458.1 927.4L462.5 949.7L467.9 976.7L471.8 998.5M489.6 991.5L493.6 1026.1M550.8 1022.2L556.7 1038.0L560.7 1049.8L564.6 1074.5L570.6 1034.0M594.3 1026.1L600.2 1039.9M606.1 1047.8L611.0 1022.2L618.0 1006.4" fill="none" stroke="#000000" stroke-width="5.3" stroke-linecap="round" stroke-linejoin="round" stroke-dasharray="15.4 17.1" clip-path="url(#clipc)"/>
<path d="M155.1 700.1L159.3 700.2M165.6 700.3L169.8 700.4M176.1 700.5L180.3 700.5M186.5 700.6L190.7 700.7M197.0 700.8L201.2 700.9M207.5 701.0L211.7 701.1M218.0 701.4L222.2 701.5M228.5 701.7L232.7 701.9M239.1 702.1L243.3 702.2M249.6 702.4L253.8 702.6M260.1 702.8L264.3 703.1M270.6 703.5L274.8 703.8M281.1 704.2L285.3 704.5M291.6 704.9L295.8 705.2M302.1 705.6L306.3 705.9M312.6 706.3L317.5 706.8M324.3 707.5L329.2 708.0M336.0 708.6L340.9 709.1M347.7 709.8L353.2 709.9M360.0 710.0L364.6 711.4M371.1 713.4L375.8 714.7M382.3 716.7L387.0 718.4M393.5 720.6L398.2 722.3M404.6 724.5L408.2 726.7M413.5 730.1L417.1 732.3M422.4 735.7L425.1 738.1M429.1 741.8L431.8 744.2M435.8 747.9L438.0 751.2M441.4 756.2L443.6 759.6M446.9 764.6L450.1 770.0M505.4 937.3L507.0 940.1M509.3 944.2L510.9 947.0M513.3 951.1L516.5 952.1M521.2 953.5L524.4 954.5M529.1 956.0L533.0 956.0M539.0 956.0L542.9 956.0M548.8 956.0L552.0 955.4M556.7 954.5L559.9 953.9M564.6 953.0L572.2 949.8M578.5 947.1L581.7 947.5M586.4 948.1L588.8 949.3M592.3 951.1L600.0 947.2M606.1 944.2L609.7 943.1M615.0 941.5L618.6 940.4M623.9 938.8L630.9 939.5M637.7 940.2L641.6 940.6M647.5 941.2L651.5 941.6M657.4 942.2L661.4 942.4M667.3 942.7L671.3 942.9M677.2 943.2L683.2 943.6M690.0 944.1L694.5 945.2M701.1 946.8L706.0 948.8M712.3 951.3L715.9 953.5M721.2 956.9L724.3 958.7M729.0 961.3L731.2 964.4M734.6 969.1L737.2 971.8M741.2 975.8L742.6 978.0M749.0 994.8L751.2 997.9" fill="none" stroke="#858585" stroke-width="5.3" stroke-linecap="round" clip-path="url(#clipc)"/>
<path d="M453.6 775.8L458.1 789.2L463.7 807.0L469.2 824.8L474.8 842.7L480.4 860.5L485.9 878.3L489.6 887.9L497.5 917.5L505.4 937.3M744.6 981.4L749.0 994.8M754.6 1002.5L759.1 984.7L763.5 971.4L766.5 962.0" fill="none" stroke="#858585" stroke-width="5.3" stroke-linecap="round" stroke-linejoin="round" stroke-dasharray="15.4 17.1" clip-path="url(#clipc)"/>
<path d="M461.4 682.7h49.5" stroke="#008000" stroke-width="5.6" stroke-linecap="round"/>
<use href="#mg" x="487.4" y="682.7"/>
<text x="519.4" y="690.2" class="lg">NC-FinFET (0.1V)</text>
<path d="M461.4 710.7h49.5" stroke="#000088" stroke-width="5.6" stroke-linecap="round"/>
<use href="#mb" x="487.4" y="710.7"/>
<text x="519.4" y="718.2" class="lg">NC-FinFET (0.5V)</text>
<path d="M461.4 738.7h49.5" stroke="#000000" stroke-width="5.6" stroke-linecap="round"/>
<text x="519.4" y="746.2" class="lg">Baseline FinFET (0.1V)</text>
<path d="M461.4 766.7h49.5" stroke="#858585" stroke-width="5.6" stroke-linecap="round"/>
<text x="519.4" y="774.2" class="lg">Baselilne FinFET (0.5V)</text>
<rect x="155.1" y="658.0" width="614.4" height="451.4" fill="none" stroke="#000" stroke-width="2.0"/>
<text x="155.1" y="1148.3" class="tk" text-anchor="middle">-3</text>
<text x="257.5" y="1148.3" class="tk" text-anchor="middle">-2</text>
<text x="359.9" y="1148.3" class="tk" text-anchor="middle">-1</text>
<text x="462.3" y="1148.3" class="tk" text-anchor="middle">0</text>
<text x="564.7" y="1148.3" class="tk" text-anchor="middle">1</text>
<text x="667.1" y="1148.3" class="tk" text-anchor="middle">2</text>
<text x="769.5" y="1148.3" class="tk" text-anchor="middle">3</text>
<text x="145.0" y="1124.0" class="tk" text-anchor="end">10<tspan class="sup" dy="-20.4">-14</tspan></text>
<text x="145.0" y="1048.8" class="tk" text-anchor="end">10<tspan class="sup" dy="-20.4">-12</tspan></text>
<text x="145.0" y="973.5" class="tk" text-anchor="end">10<tspan class="sup" dy="-20.4">-10</tspan></text>
<text x="145.0" y="898.3" class="tk" text-anchor="end">10<tspan class="sup" dy="-20.4">-8</tspan></text>
<text x="145.0" y="823.1" class="tk" text-anchor="end">10<tspan class="sup" dy="-20.4">-6</tspan></text>
<text x="145.0" y="747.8" class="tk" text-anchor="end">10<tspan class="sup" dy="-20.4">-4</tspan></text>
<text x="145.0" y="672.6" class="tk" text-anchor="end">10<tspan class="sup" dy="-20.4">-2</tspan></text>
<text x="461.6" y="1197.4" class="al" text-anchor="middle" letter-spacing="0.147">Gate Voltage [V]</text>
<text transform="translate(52.0 889.4) rotate(-90)" class="al" text-anchor="middle" letter-spacing="-0.255">Drain Current [A/um]</text>
<text x="408.5" y="1248.4" class="cap" text-anchor="middle">(c)</text>
<path d="M987.9 659.6V1109.8 M1090.1 659.6V1109.8 M1192.3 659.6V1109.8 M1294.4 659.6V1109.8 M1396.6 659.6V1109.8 M1498.8 659.6V1109.8 M936.8 1098.5H1549.9 M936.8 1091.9H1549.9 M936.8 1087.2H1549.9 M936.8 1083.6H1549.9 M936.8 1080.6H1549.9 M936.8 1078.1H1549.9 M936.8 1075.9H1549.9 M936.8 1074.0H1549.9 M936.8 1061.0H1549.9 M936.8 1054.4H1549.9 M936.8 1049.7H1549.9 M936.8 1046.1H1549.9 M936.8 1043.1H1549.9 M936.8 1040.6H1549.9 M936.8 1038.4H1549.9 M936.8 1036.5H1549.9 M936.8 1023.5H1549.9 M936.8 1016.9H1549.9 M936.8 1012.2H1549.9 M936.8 1008.5H1549.9 M936.8 1005.6H1549.9 M936.8 1003.1H1549.9 M936.8 1000.9H1549.9 M936.8 999.0H1549.9 M936.8 986.0H1549.9 M936.8 979.4H1549.9 M936.8 974.7H1549.9 M936.8 971.0H1549.9 M936.8 968.1H1549.9 M936.8 965.5H1549.9 M936.8 963.4H1549.9 M936.8 961.5H1549.9 M936.8 948.4H1549.9 M936.8 941.8H1549.9 M936.8 937.1H1549.9 M936.8 933.5H1549.9 M936.8 930.5H1549.9 M936.8 928.0H1549.9 M936.8 925.9H1549.9 M936.8 923.9H1549.9 M936.8 910.9H1549.9 M936.8 904.3H1549.9 M936.8 899.6H1549.9 M936.8 896.0H1549.9 M936.8 893.0H1549.9 M936.8 890.5H1549.9 M936.8 888.3H1549.9 M936.8 886.4H1549.9 M936.8 873.4H1549.9 M936.8 866.8H1549.9 M936.8 862.1H1549.9 M936.8 858.5H1549.9 M936.8 855.5H1549.9 M936.8 853.0H1549.9 M936.8 850.8H1549.9 M936.8 848.9H1549.9 M936.8 835.9H1549.9 M936.8 829.3H1549.9 M936.8 824.6H1549.9 M936.8 821.0H1549.9 M936.8 818.0H1549.9 M936.8 815.5H1549.9 M936.8 813.3H1549.9 M936.8 811.4H1549.9 M936.8 798.4H1549.9 M936.8 791.8H1549.9 M936.8 787.1H1549.9 M936.8 783.4H1549.9 M936.8 780.5H1549.9 M936.8 778.0H1549.9 M936.8 775.8H1549.9 M936.8 773.9H1549.9 M936.8 760.9H1549.9 M936.8 754.3H1549.9 M936.8 749.6H1549.9 M936.8 745.9H1549.9 M936.8 743.0H1549.9 M936.8 740.4H1549.9 M936.8 738.3H1549.9 M936.8 736.4H1549.9 M936.8 723.3H1549.9 M936.8 716.7H1549.9 M936.8 712.0H1549.9 M936.8 708.4H1549.9 M936.8 705.4H1549.9 M936.8 702.9H1549.9 M936.8 700.8H1549.9 M936.8 698.8H1549.9 M936.8 685.8H1549.9 M936.8 679.2H1549.9 M936.8 674.5H1549.9 M936.8 670.9H1549.9 M936.8 667.9H1549.9 M936.8 665.4H1549.9 M936.8 663.2H1549.9 M936.8 661.3H1549.9" stroke="#d4d4d4" stroke-width="1" stroke-dasharray="1.2 2.7" fill="none"/>
<path d="M1039.0 659.6V1109.8 M1141.2 659.6V1109.8 M1243.3 659.6V1109.8 M1345.5 659.6V1109.8 M1447.7 659.6V1109.8 M936.8 1072.3H1549.9 M936.8 1034.8H1549.9 M936.8 997.2H1549.9 M936.8 959.7H1549.9 M936.8 922.2H1549.9 M936.8 884.7H1549.9 M936.8 847.2H1549.9 M936.8 809.7H1549.9 M936.8 772.1H1549.9 M936.8 734.6H1549.9 M936.8 697.1H1549.9" stroke="#b0b0b0" stroke-width="1.1" fill="none"/>
<path d="M936.8 1109.8v-9M936.8 659.6v9 M1039.0 1109.8v-9M1039.0 659.6v9 M1141.2 1109.8v-9M1141.2 659.6v9 M1243.3 1109.8v-9M1243.3 659.6v9 M1345.5 1109.8v-9M1345.5 659.6v9 M1447.7 1109.8v-9M1447.7 659.6v9 M1549.9 1109.8v-9M1549.9 659.6v9 M987.9 1109.8v-5M987.9 659.6v5 M1090.1 1109.8v-5M1090.1 659.6v5 M1192.3 1109.8v-5M1192.3 659.6v5 M1294.4 1109.8v-5M1294.4 659.6v5 M1396.6 1109.8v-5M1396.6 659.6v5 M1498.8 1109.8v-5M1498.8 659.6v5 M936.8 1109.8h10M1549.9 1109.8h-10 M936.8 1098.5h5M1549.9 1098.5h-5 M936.8 1091.9h5M1549.9 1091.9h-5 M936.8 1087.2h5M1549.9 1087.2h-5 M936.8 1083.6h5M1549.9 1083.6h-5 M936.8 1080.6h5M1549.9 1080.6h-5 M936.8 1078.1h5M1549.9 1078.1h-5 M936.8 1075.9h5M1549.9 1075.9h-5 M936.8 1074.0h5M1549.9 1074.0h-5 M936.8 1072.3h10M1549.9 1072.3h-10 M936.8 1061.0h5M1549.9 1061.0h-5 M936.8 1054.4h5M1549.9 1054.4h-5 M936.8 1049.7h5M1549.9 1049.7h-5 M936.8 1046.1h5M1549.9 1046.1h-5 M936.8 1043.1h5M1549.9 1043.1h-5 M936.8 1040.6h5M1549.9 1040.6h-5 M936.8 1038.4h5M1549.9 1038.4h-5 M936.8 1036.5h5M1549.9 1036.5h-5 M936.8 1034.8h10M1549.9 1034.8h-10 M936.8 1023.5h5M1549.9 1023.5h-5 M936.8 1016.9h5M1549.9 1016.9h-5 M936.8 1012.2h5M1549.9 1012.2h-5 M936.8 1008.5h5M1549.9 1008.5h-5 M936.8 1005.6h5M1549.9 1005.6h-5 M936.8 1003.1h5M1549.9 1003.1h-5 M936.8 1000.9h5M1549.9 1000.9h-5 M936.8 999.0h5M1549.9 999.0h-5 M936.8 997.2h10M1549.9 997.2h-10 M936.8 986.0h5M1549.9 986.0h-5 M936.8 979.4h5M1549.9 979.4h-5 M936.8 974.7h5M1549.9 974.7h-5 M936.8 971.0h5M1549.9 971.0h-5 M936.8 968.1h5M1549.9 968.1h-5 M936.8 965.5h5M1549.9 965.5h-5 M936.8 963.4h5M1549.9 963.4h-5 M936.8 961.5h5M1549.9 961.5h-5 M936.8 959.7h10M1549.9 959.7h-10 M936.8 948.4h5M1549.9 948.4h-5 M936.8 941.8h5M1549.9 941.8h-5 M936.8 937.1h5M1549.9 937.1h-5 M936.8 933.5h5M1549.9 933.5h-5 M936.8 930.5h5M1549.9 930.5h-5 M936.8 928.0h5M1549.9 928.0h-5 M936.8 925.9h5M1549.9 925.9h-5 M936.8 923.9h5M1549.9 923.9h-5 M936.8 922.2h10M1549.9 922.2h-10 M936.8 910.9h5M1549.9 910.9h-5 M936.8 904.3h5M1549.9 904.3h-5 M936.8 899.6h5M1549.9 899.6h-5 M936.8 896.0h5M1549.9 896.0h-5 M936.8 893.0h5M1549.9 893.0h-5 M936.8 890.5h5M1549.9 890.5h-5 M936.8 888.3h5M1549.9 888.3h-5 M936.8 886.4h5M1549.9 886.4h-5 M936.8 884.7h10M1549.9 884.7h-10 M936.8 873.4h5M1549.9 873.4h-5 M936.8 866.8h5M1549.9 866.8h-5 M936.8 862.1h5M1549.9 862.1h-5 M936.8 858.5h5M1549.9 858.5h-5 M936.8 855.5h5M1549.9 855.5h-5 M936.8 853.0h5M1549.9 853.0h-5 M936.8 850.8h5M1549.9 850.8h-5 M936.8 848.9h5M1549.9 848.9h-5 M936.8 847.2h10M1549.9 847.2h-10 M936.8 835.9h5M1549.9 835.9h-5 M936.8 829.3h5M1549.9 829.3h-5 M936.8 824.6h5M1549.9 824.6h-5 M936.8 821.0h5M1549.9 821.0h-5 M936.8 818.0h5M1549.9 818.0h-5 M936.8 815.5h5M1549.9 815.5h-5 M936.8 813.3h5M1549.9 813.3h-5 M936.8 811.4h5M1549.9 811.4h-5 M936.8 809.7h10M1549.9 809.7h-10 M936.8 798.4h5M1549.9 798.4h-5 M936.8 791.8h5M1549.9 791.8h-5 M936.8 787.1h5M1549.9 787.1h-5 M936.8 783.4h5M1549.9 783.4h-5 M936.8 780.5h5M1549.9 780.5h-5 M936.8 778.0h5M1549.9 778.0h-5 M936.8 775.8h5M1549.9 775.8h-5 M936.8 773.9h5M1549.9 773.9h-5 M936.8 772.1h10M1549.9 772.1h-10 M936.8 760.9h5M1549.9 760.9h-5 M936.8 754.3h5M1549.9 754.3h-5 M936.8 749.6h5M1549.9 749.6h-5 M936.8 745.9h5M1549.9 745.9h-5 M936.8 743.0h5M1549.9 743.0h-5 M936.8 740.4h5M1549.9 740.4h-5 M936.8 738.3h5M1549.9 738.3h-5 M936.8 736.4h5M1549.9 736.4h-5 M936.8 734.6h10M1549.9 734.6h-10 M936.8 723.3h5M1549.9 723.3h-5 M936.8 716.7h5M1549.9 716.7h-5 M936.8 712.0h5M1549.9 712.0h-5 M936.8 708.4h5M1549.9 708.4h-5 M936.8 705.4h5M1549.9 705.4h-5 M936.8 702.9h5M1549.9 702.9h-5 M936.8 700.8h5M1549.9 700.8h-5 M936.8 698.8h5M1549.9 698.8h-5 M936.8 697.1h10M1549.9 697.1h-10 M936.8 685.8h5M1549.9 685.8h-5 M936.8 679.2h5M1549.9 679.2h-5 M936.8 674.5h5M1549.9 674.5h-5 M936.8 670.9h5M1549.9 670.9h-5 M936.8 667.9h5M1549.9 667.9h-5 M936.8 665.4h5M1549.9 665.4h-5 M936.8 663.2h5M1549.9 663.2h-5 M936.8 661.3h5M1549.9 661.3h-5 M936.8 659.6h10M1549.9 659.6h-10" stroke="#000" stroke-width="1.6" fill="none"/>
<polyline points="936.8,733.4 941.9,733.8 947.0,734.3 952.1,735.7 957.2,735.9 962.3,736.1 967.5,736.9 972.6,731.7 977.7,733.9 982.8,736.1 987.9,736.9 993.0,736.5 998.1,736.1 1003.2,734.3 1008.3,732.5 1013.4,736.1 1018.5,736.5 1023.7,736.9 1028.8,745.7 1033.9,751.8 1039.0,770.2 1044.1,775.5 1049.2,763.2 1054.3,852.5 1059.4,962.2 1064.5,982.3 1069.6,982.3 1074.7,982.3 1079.9,982.3 1085.0,982.3 1090.1,982.3 1095.2,982.3 1100.3,982.2 1105.4,982.1 1110.5,982.0 1115.6,982.0 1120.7,981.9 1125.8,981.8 1130.9,981.7 1136.1,981.6 1141.2,981.5 1146.3,981.5 1151.4,981.4 1156.5,981.3 1161.6,981.2 1166.7,981.1 1171.8,981.0 1176.9,980.9 1182.0,980.8 1187.1,980.8 1192.3,980.7 1197.4,980.6 1202.5,980.5 1207.6,980.4 1212.7,980.3 1217.8,980.0 1222.9,979.8 1228.0,979.5 1233.1,979.2 1238.2,978.9 1243.3,978.7 1248.5,978.4 1253.6,978.6 1258.7,978.8 1263.8,979.0 1268.9,979.1 1274.0,979.3 1279.1,979.5 1284.2,979.7 1289.3,979.9 1294.4,979.6 1299.6,979.4 1304.7,979.1 1309.8,978.9 1314.9,978.6 1320.0,978.4 1325.1,978.1 1330.2,978.1 1335.3,978.1 1340.4,978.1 1345.5,978.2 1350.6,978.4 1355.8,978.5 1360.9,978.7 1366.0,978.9 1371.1,979.0 1376.2,980.7 1381.3,981.4 1386.4,982.0 1391.5,982.7 1396.6,983.4 1401.7,985.1 1406.8,984.7 1412.0,984.2 1417.1,983.8 1422.2,983.4 1427.3,982.8 1432.4,982.2 1437.5,981.6 1442.6,981.2 1447.7,980.8 1452.8,980.3 1457.9,979.9 1463.0,978.1 1468.2,978.4 1473.3,978.7 1478.4,979.0 1483.5,985.1 1488.6,1026.3 1493.7,1025.4 1498.8,1018.4 1503.9,1003.5 1509.0,986.9 1514.1,979.9 1519.2,985.1 1524.4,960.6 1529.5,974.6 1534.6,955.3 1539.7,949.2 1544.8,951.8 1549.9,957.5" fill="none" stroke="#008000" stroke-width="5.4" stroke-linejoin="round" clip-path="url(#clipd)"/>
<g clip-path="url(#clipd)"><use href="#mg" x="1549.9" y="957.5"/><use href="#mg" x="1544.8" y="951.8"/><use href="#mg" x="1539.7" y="949.2"/><use href="#mg" x="1534.6" y="955.3"/><use href="#mg" x="1529.5" y="974.6"/><use href="#mg" x="1524.4" y="960.6"/><use href="#mg" x="1519.2" y="985.1"/><use href="#mg" x="1514.1" y="979.9"/><use href="#mg" x="1509.0" y="986.9"/><use href="#mg" x="1503.9" y="1003.5"/><use href="#mg" x="1498.8" y="1018.4"/><use href="#mg" x="1493.7" y="1025.4"/><use href="#mg" x="1488.6" y="1026.3"/><use href="#mg" x="1483.5" y="985.1"/><use href="#mg" x="1478.4" y="979.0"/><use href="#mg" x="1473.3" y="978.7"/><use href="#mg" x="1468.2" y="978.4"/><use href="#mg" x="1463.0" y="978.1"/><use href="#mg" x="1457.9" y="979.9"/><use href="#mg" x="1452.8" y="980.3"/><use href="#mg" x="1447.7" y="980.8"/><use href="#mg" x="1442.6" y="981.2"/><use href="#mg" x="1437.5" y="981.6"/><use href="#mg" x="1432.4" y="982.2"/><use href="#mg" x="1427.3" y="982.8"/><use href="#mg" x="1422.2" y="983.4"/><use href="#mg" x="1417.1" y="983.8"/><use href="#mg" x="1412.0" y="984.2"/><use href="#mg" x="1406.8" y="984.7"/><use href="#mg" x="1401.7" y="985.1"/><use href="#mg" x="1396.6" y="983.4"/><use href="#mg" x="1391.5" y="982.7"/><use href="#mg" x="1386.4" y="982.0"/><use href="#mg" x="1381.3" y="981.4"/><use href="#mg" x="1376.2" y="980.7"/><use href="#mg" x="1371.1" y="979.0"/><use href="#mg" x="1366.0" y="978.9"/><use href="#mg" x="1360.9" y="978.7"/><use href="#mg" x="1355.8" y="978.5"/><use href="#mg" x="1350.6" y="978.4"/><use href="#mg" x="1345.5" y="978.2"/><use href="#mg" x="1340.4" y="978.1"/><use href="#mg" x="1335.3" y="978.1"/><use href="#mg" x="1330.2" y="978.1"/><use href="#mg" x="1325.1" y="978.1"/><use href="#mg" x="1320.0" y="978.4"/><use href="#mg" x="1314.9" y="978.6"/><use href="#mg" x="1309.8" y="978.9"/><use href="#mg" x="1304.7" y="979.1"/><use href="#mg" x="1299.6" y="979.4"/><use href="#mg" x="1294.4" y="979.6"/><use href="#mg" x="1289.3" y="979.9"/><use href="#mg" x="1284.2" y="979.7"/><use href="#mg" x="1279.1" y="979.5"/><use href="#mg" x="1274.0" y="979.3"/><use href="#mg" x="1268.9" y="979.1"/><use href="#mg" x="1263.8" y="979.0"/><use href="#mg" x="1258.7" y="978.8"/><use href="#mg" x="1253.6" y="978.6"/><use href="#mg" x="1248.5" y="978.4"/><use href="#mg" x="1243.3" y="978.7"/><use href="#mg" x="1238.2" y="978.9"/><use href="#mg" x="1233.1" y="979.2"/><use href="#mg" x="1228.0" y="979.5"/><use href="#mg" x="1222.9" y="979.8"/><use href="#mg" x="1217.8" y="980.0"/><use href="#mg" x="1212.7" y="980.3"/><use href="#mg" x="1207.6" y="980.4"/><use href="#mg" x="1202.5" y="980.5"/><use href="#mg" x="1197.4" y="980.6"/><use href="#mg" x="1192.3" y="980.7"/><use href="#mg" x="1187.1" y="980.8"/><use href="#mg" x="1182.0" y="980.8"/><use href="#mg" x="1176.9" y="980.9"/><use href="#mg" x="1171.8" y="981.0"/><use href="#mg" x="1166.7" y="981.1"/><use href="#mg" x="1161.6" y="981.2"/><use href="#mg" x="1156.5" y="981.3"/><use href="#mg" x="1151.4" y="981.4"/><use href="#mg" x="1146.3" y="981.5"/><use href="#mg" x="1141.2" y="981.5"/><use href="#mg" x="1136.1" y="981.6"/><use href="#mg" x="1130.9" y="981.7"/><use href="#mg" x="1125.8" y="981.8"/><use href="#mg" x="1120.7" y="981.9"/><use href="#mg" x="1115.6" y="982.0"/><use href="#mg" x="1110.5" y="982.0"/><use href="#mg" x="1105.4" y="982.1"/><use href="#mg" x="1100.3" y="982.2"/><use href="#mg" x="1095.2" y="982.3"/><use href="#mg" x="1090.1" y="982.3"/><use href="#mg" x="1085.0" y="982.3"/><use href="#mg" x="1079.9" y="982.3"/><use href="#mg" x="1074.7" y="982.3"/><use href="#mg" x="1069.6" y="982.3"/><use href="#mg" x="1064.5" y="982.3"/><use href="#mg" x="1059.4" y="962.2"/><use href="#mg" x="1054.3" y="852.5"/><use href="#mg" x="1049.2" y="763.2"/><use href="#mg" x="1044.1" y="775.5"/><use href="#mg" x="1039.0" y="770.2"/><use href="#mg" x="1033.9" y="751.8"/><use href="#mg" x="1028.8" y="745.7"/><use href="#mg" x="1023.7" y="736.9"/><use href="#mg" x="1018.5" y="736.5"/><use href="#mg" x="1013.4" y="736.1"/><use href="#mg" x="1008.3" y="732.5"/><use href="#mg" x="1003.2" y="734.3"/><use href="#mg" x="998.1" y="736.1"/><use href="#mg" x="993.0" y="736.5"/><use href="#mg" x="987.9" y="736.9"/><use href="#mg" x="982.8" y="736.1"/><use href="#mg" x="977.7" y="733.9"/><use href="#mg" x="972.6" y="731.7"/><use href="#mg" x="967.5" y="736.9"/><use href="#mg" x="962.3" y="736.1"/><use href="#mg" x="957.2" y="735.9"/><use href="#mg" x="952.1" y="735.7"/><use href="#mg" x="947.0" y="734.3"/><use href="#mg" x="941.9" y="733.8"/><use href="#mg" x="936.8" y="733.4"/></g>
<polyline points="936.8,702.8 941.9,702.3 947.0,701.9 952.1,704.5 957.2,704.0 962.3,703.6 967.5,703.2 972.6,702.8 977.7,703.6 982.8,707.2 987.9,705.0 993.0,702.8 998.1,708.9 1003.2,710.2 1008.3,711.5 1013.4,709.8 1018.5,708.0 1023.7,705.4 1028.8,712.4 1033.9,712.4 1039.0,709.8 1044.1,709.3 1049.2,708.9 1054.3,710.2 1059.4,711.5 1064.5,712.4 1069.6,713.3 1074.7,720.3 1079.9,708.9 1085.0,719.4 1090.1,721.2 1095.2,736.9 1100.3,749.2 1105.4,783.3 1110.5,746.6 1115.6,767.6 1120.7,870.9 1125.8,878.8 1130.9,912.5 1136.1,939.3 1141.2,944.0 1146.3,946.9 1151.4,950.7 1156.5,954.6 1161.6,958.4 1166.7,959.3 1171.8,962.2 1176.9,965.1 1182.0,967.9 1187.1,969.8 1192.3,971.7 1197.4,973.7 1202.5,975.6 1207.6,977.5 1212.7,979.4 1217.8,981.3 1222.9,983.2 1228.0,985.1 1233.1,987.0 1238.2,988.9 1243.3,991.8 1248.5,994.7 1253.6,997.5 1258.7,1001.4 1263.8,1007.1 1268.9,1012.8 1274.0,1020.5 1279.1,1025.2 1284.2,1035.7 1289.3,1057.7 1294.4,1072.7 1299.6,1042.9 1304.7,1028.9 1309.8,1024.5 1314.9,1022.8 1320.0,1020.2 1325.1,1016.7 1330.2,1014.9 1335.3,1013.1 1340.4,1012.3 1345.5,1012.3 1350.6,1010.5 1355.8,1009.6 1360.9,1010.5 1366.0,1010.5 1371.1,1011.4 1376.2,1008.8 1381.3,1007.0 1386.4,1004.4 1391.5,1006.1 1396.6,1008.8 1401.7,1004.4 1406.8,1018.4 1412.0,1011.4 1417.1,1009.6 1422.2,996.5 1427.3,987.7 1432.4,979.9 1437.5,967.6 1442.6,963.2 1447.7,958.0 1452.8,953.6 1457.9,951.8 1463.0,950.1 1468.2,947.4 1473.3,944.8 1478.4,932.6 1483.5,929.1 1488.6,925.5 1493.7,923.8 1498.8,923.8 1503.9,922.0 1509.0,923.8 1514.1,922.9 1519.2,922.0 1524.4,922.0 1529.5,921.2 1534.6,922.0 1539.7,922.5 1544.8,922.9 1549.9,921.0" fill="none" stroke="#000088" stroke-width="5.4" stroke-linejoin="round" clip-path="url(#clipd)"/>
<g clip-path="url(#clipd)"><use href="#mb" x="1549.9" y="921.0"/><use href="#mb" x="1544.8" y="922.9"/><use href="#mb" x="1539.7" y="922.5"/><use href="#mb" x="1534.6" y="922.0"/><use href="#mb" x="1529.5" y="921.2"/><use href="#mb" x="1524.4" y="922.0"/><use href="#mb" x="1519.2" y="922.0"/><use href="#mb" x="1514.1" y="922.9"/><use href="#mb" x="1509.0" y="923.8"/><use href="#mb" x="1503.9" y="922.0"/><use href="#mb" x="1498.8" y="923.8"/><use href="#mb" x="1493.7" y="923.8"/><use href="#mb" x="1488.6" y="925.5"/><use href="#mb" x="1483.5" y="929.1"/><use href="#mb" x="1478.4" y="932.6"/><use href="#mb" x="1473.3" y="944.8"/><use href="#mb" x="1468.2" y="947.4"/><use href="#mb" x="1463.0" y="950.1"/><use href="#mb" x="1457.9" y="951.8"/><use href="#mb" x="1452.8" y="953.6"/><use href="#mb" x="1447.7" y="958.0"/><use href="#mb" x="1442.6" y="963.2"/><use href="#mb" x="1437.5" y="967.6"/><use href="#mb" x="1432.4" y="979.9"/><use href="#mb" x="1427.3" y="987.7"/><use href="#mb" x="1422.2" y="996.5"/><use href="#mb" x="1417.1" y="1009.6"/><use href="#mb" x="1412.0" y="1011.4"/><use href="#mb" x="1406.8" y="1018.4"/><use href="#mb" x="1401.7" y="1004.4"/><use href="#mb" x="1396.6" y="1008.8"/><use href="#mb" x="1391.5" y="1006.1"/><use href="#mb" x="1386.4" y="1004.4"/><use href="#mb" x="1381.3" y="1007.0"/><use href="#mb" x="1376.2" y="1008.8"/><use href="#mb" x="1371.1" y="1011.4"/><use href="#mb" x="1366.0" y="1010.5"/><use href="#mb" x="1360.9" y="1010.5"/><use href="#mb" x="1355.8" y="1009.6"/><use href="#mb" x="1350.6" y="1010.5"/><use href="#mb" x="1345.5" y="1012.3"/><use href="#mb" x="1340.4" y="1012.3"/><use href="#mb" x="1335.3" y="1013.1"/><use href="#mb" x="1330.2" y="1014.9"/><use href="#mb" x="1325.1" y="1016.7"/><use href="#mb" x="1320.0" y="1020.2"/><use href="#mb" x="1314.9" y="1022.8"/><use href="#mb" x="1309.8" y="1024.5"/><use href="#mb" x="1304.7" y="1028.9"/><use href="#mb" x="1299.6" y="1042.9"/><use href="#mb" x="1294.4" y="1072.7"/><use href="#mb" x="1289.3" y="1057.7"/><use href="#mb" x="1284.2" y="1035.7"/><use href="#mb" x="1279.1" y="1025.2"/><use href="#mb" x="1274.0" y="1020.5"/><use href="#mb" x="1268.9" y="1012.8"/><use href="#mb" x="1263.8" y="1007.1"/><use href="#mb" x="1258.7" y="1001.4"/><use href="#mb" x="1253.6" y="997.5"/><use href="#mb" x="1248.5" y="994.7"/><use href="#mb" x="1243.3" y="991.8"/><use href="#mb" x="1238.2" y="988.9"/><use href="#mb" x="1233.1" y="987.0"/><use href="#mb" x="1228.0" y="985.1"/><use href="#mb" x="1222.9" y="983.2"/><use href="#mb" x="1217.8" y="981.3"/><use href="#mb" x="1212.7" y="979.4"/><use href="#mb" x="1207.6" y="977.5"/><use href="#mb" x="1202.5" y="975.6"/><use href="#mb" x="1197.4" y="973.7"/><use href="#mb" x="1192.3" y="971.7"/><use href="#mb" x="1187.1" y="969.8"/><use href="#mb" x="1182.0" y="967.9"/><use href="#mb" x="1176.9" y="965.1"/><use href="#mb" x="1171.8" y="962.2"/><use href="#mb" x="1166.7" y="959.3"/><use href="#mb" x="1161.6" y="958.4"/><use href="#mb" x="1156.5" y="954.6"/><use href="#mb" x="1151.4" y="950.7"/><use href="#mb" x="1146.3" y="946.9"/><use href="#mb" x="1141.2" y="944.0"/><use href="#mb" x="1136.1" y="939.3"/><use href="#mb" x="1130.9" y="912.5"/><use href="#mb" x="1125.8" y="878.8"/><use href="#mb" x="1120.7" y="870.9"/><use href="#mb" x="1115.6" y="767.6"/><use href="#mb" x="1110.5" y="746.6"/><use href="#mb" x="1105.4" y="783.3"/><use href="#mb" x="1100.3" y="749.2"/><use href="#mb" x="1095.2" y="736.9"/><use href="#mb" x="1090.1" y="721.2"/><use href="#mb" x="1085.0" y="719.4"/><use href="#mb" x="1079.9" y="708.9"/><use href="#mb" x="1074.7" y="720.3"/><use href="#mb" x="1069.6" y="713.3"/><use href="#mb" x="1064.5" y="712.4"/><use href="#mb" x="1059.4" y="711.5"/><use href="#mb" x="1054.3" y="710.2"/><use href="#mb" x="1049.2" y="708.9"/><use href="#mb" x="1044.1" y="709.3"/><use href="#mb" x="1039.0" y="709.8"/><use href="#mb" x="1033.9" y="712.4"/><use href="#mb" x="1028.8" y="712.4"/><use href="#mb" x="1023.7" y="705.4"/><use href="#mb" x="1018.5" y="708.0"/><use href="#mb" x="1013.4" y="709.8"/><use href="#mb" x="1008.3" y="711.5"/><use href="#mb" x="1003.2" y="710.2"/><use href="#mb" x="998.1" y="708.9"/><use href="#mb" x="993.0" y="702.8"/><use href="#mb" x="987.9" y="705.0"/><use href="#mb" x="982.8" y="707.2"/><use href="#mb" x="977.7" y="703.6"/><use href="#mb" x="972.6" y="702.8"/><use href="#mb" x="967.5" y="703.2"/><use href="#mb" x="962.3" y="703.6"/><use href="#mb" x="957.2" y="704.0"/><use href="#mb" x="952.1" y="704.5"/><use href="#mb" x="947.0" y="701.9"/><use href="#mb" x="941.9" y="702.3"/><use href="#mb" x="936.8" y="702.8"/></g>
<polyline points="936.8,724.7 988.5,725.9 1041.1,727.6 1084.9,730.8 1111.2,733.4 1137.4,738.2 1154.3,745.2 1165.1,750.9 1177.3,765.2 1184.4,774.6 1189.5,789.6 1193.8,799.6 1197.3,813.3 1201.6,824.0 1205.2,837.6 1208.8,848.4 1213.1,862.0 1216.7,872.8 1221.5,888.7 1229.1,911.6 1232.9,921.1 1236.7,942.1 1242.5,967.0 1247.3,986.1 1252.0,991.8 1269.2,992.8 1290.0,993.9 1321.5,993.9 1330.3,995.6 1335.5,1009.6 1342.6,1018.4 1349.6,1018.4 1361.8,1025.4 1368.8,1035.9 1372.3,1049.9 1377.6,1041.2 1386.4,1029.8 1398.6,1030.7 1409.1,1023.7 1412.6,1013.1 1417.9,993.9 1424.9,976.4 1435.4,975.5 1447.7,983.4 1452.9,993.9 1458.2,988.6 1463.4,979.9 1472.2,964.1 1479.2,953.6 1491.5,940.4 1503.7,929.1 1514.2,920.3 1526.5,910.7 1540.5,901.0 1549.9,896.0" fill="none" stroke="#000000" stroke-width="5.3" stroke-linecap="round" stroke-linejoin="round" stroke-dasharray="9.2 14.8" clip-path="url(#clipd)"/>
<polyline points="936.8,701.0 988.5,701.9 1041.1,703.6 1084.9,706.3 1111.2,708.9 1137.4,711.5 1154.3,716.1 1165.8,718.6 1178.7,725.1 1190.2,729.4 1203.1,738.7 1213.1,748.7 1221.7,763.1 1228.9,773.8 1234.6,787.5 1238.9,798.2 1243.2,811.8 1246.8,821.9 1251.1,836.2 1254.7,847.0 1259.0,860.6 1263.3,870.6 1265.4,882.9 1271.1,898.2 1276.9,911.6 1282.6,926.9 1288.3,944.0 1296.0,957.4 1307.5,965.8 1325.0,968.5 1347.8,969.3 1368.8,965.0 1377.6,959.7 1395.1,944.8 1419.6,939.6 1440.7,926.4 1456.4,922.0 1474.0,921.2 1493.9,926.8 1500.2,930.8 1517.8,937.3 1524.8,941.3 1535.3,951.8 1542.3,964.1 1549.9,968.0" fill="none" stroke="#858585" stroke-width="5.3" stroke-linecap="round" stroke-linejoin="round" stroke-dasharray="9.2 14.8" clip-path="url(#clipd)"/>
<path d="M1244.1 684.8h52" stroke="#008000" stroke-width="5.6" stroke-linecap="round"/>
<use href="#mg" x="1270.1" y="684.8"/>
<text x="1302.1" y="692.3" class="lg">NC-FinFET (0.1V)</text>
<path d="M1244.1 712.7h52" stroke="#000088" stroke-width="5.6" stroke-linecap="round"/>
<use href="#mb" x="1270.1" y="712.7"/>
<text x="1302.1" y="720.2" class="lg">NC-FinFET (0.5V)</text>
<path d="M1244.1 740.6h9M1268.6 740.6h9" stroke="#000000" stroke-width="5.6" stroke-linecap="round"/>
<text x="1302.1" y="748.1" class="lg">Baseline FinFET (0.1V)</text>
<path d="M1244.1 768.5h9M1268.6 768.5h9" stroke="#858585" stroke-width="5.6" stroke-linecap="round"/>
<text x="1302.1" y="776.0" class="lg">Baselilne FinFET (0.5V)</text>
<rect x="936.8" y="659.6" width="613.1" height="450.2" fill="none" stroke="#000" stroke-width="2.0"/>
<text x="936.8" y="1148.6" class="tk" text-anchor="middle">-3</text>
<text x="1039.0" y="1148.6" class="tk" text-anchor="middle">-2</text>
<text x="1141.2" y="1148.6" class="tk" text-anchor="middle">-1</text>
<text x="1243.3" y="1148.6" class="tk" text-anchor="middle">0</text>
<text x="1345.5" y="1148.6" class="tk" text-anchor="middle">1</text>
<text x="1447.7" y="1148.6" class="tk" text-anchor="middle">2</text>
<text x="1549.9" y="1148.6" class="tk" text-anchor="middle">3</text>
<text x="926.6" y="1124.4" class="tk" text-anchor="end">10<tspan class="sup" dy="-20.4">-14</tspan></text>
<text x="926.6" y="1049.4" class="tk" text-anchor="end">10<tspan class="sup" dy="-20.4">-12</tspan></text>
<text x="926.6" y="974.3" class="tk" text-anchor="end">10<tspan class="sup" dy="-20.4">-10</tspan></text>
<text x="926.6" y="899.3" class="tk" text-anchor="end">10<tspan class="sup" dy="-20.4">-8</tspan></text>
<text x="926.6" y="824.3" class="tk" text-anchor="end">10<tspan class="sup" dy="-20.4">-6</tspan></text>
<text x="926.6" y="749.2" class="tk" text-anchor="end">10<tspan class="sup" dy="-20.4">-4</tspan></text>
<text x="926.6" y="674.2" class="tk" text-anchor="end">10<tspan class="sup" dy="-20.4">-2</tspan></text>
<text x="1243.0" y="1200.2" class="al" text-anchor="middle" letter-spacing="0.1">Gate Voltage [V]</text>
<text transform="translate(833.7 890.4) rotate(-90)" class="al" text-anchor="middle" letter-spacing="-0.184">Drain Current [A/um]</text>
<text x="1231.5" y="1248.5" class="cap" text-anchor="middle">(d)</text>
</svg>
</body></html>
